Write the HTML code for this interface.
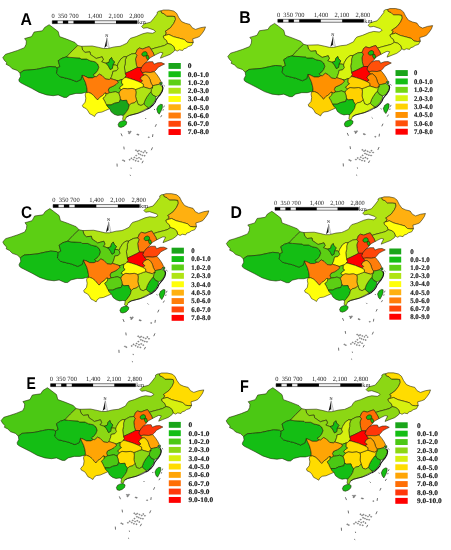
<!DOCTYPE html><html><head><meta charset="utf-8"><title>Maps</title><style>html,body{margin:0;padding:0;background:#fff}svg{display:block}text{font-family:"Liberation Serif",serif;text-rendering:geometricPrecision}.lt{font-family:"Liberation Sans",sans-serif;font-weight:bold}.lg{font-weight:bold}</style></head><body>
<svg width="451" height="550" viewBox="0 0 451 550">
<rect width="451" height="550" fill="#fff"/>
<g transform="matrix(1 0 0 1 0 0)" stroke="#1c1c00" stroke-width="0.55" stroke-linejoin="round">
<path d="M81.6 46.3L92.2 46.0L98.8 47.4L103.3 48.5L107.7 48.5L114.3 46.9L120.0 46.3L122.7 45.2L127.2 43.0L128.8 40.2L130.5 38.3L136.1 36.6L142.7 33.8L147.2 32.7L152.7 33.3L155.5 31.6L153.8 29.9L147.2 27.7L143.3 28.3L141.6 26.6L144.4 23.8L150.5 22.2L153.8 18.3L157.2 13.9L157.2 12.2L158.9 11.1L161.1 10.8L161.6 12.8L164.4 13.9L166.6 16.1L172.2 16.1L175.0 16.6L175.5 19.4L173.8 23.3L170.5 27.7L165.0 31.6L166.6 32.7L165.0 35.5L163.3 36.1L163.9 38.3L166.6 40.5L167.7 43.5L164.4 45.5L160.5 46.6L155.1 48.0L151.0 49.3L149.3 46.7L146.6 47.4L142.7 49.0L139.4 48.0L137.2 49.6L136.4 51.8L135.5 53.5L131.5 54.0L128.0 55.8L126.6 56.7L124.0 56.7L120.9 58.9L118.2 63.3L117.3 66.0L116.0 65.1L112.9 64.9L114.6 62.0L112.4 59.8L111.5 57.5L109.8 59.3L108.9 62.4L105.8 63.3L101.6 61.8L103.3 59.6L102.2 56.8L96.1 58.5L93.8 56.8L90.5 54.6L90.0 51.9L85.0 52.4L82.7 50.2Z" fill="#b0e414"/>
<path d="M2.8 57.6L5.5 54.3L11.1 52.6L17.7 50.4L24.4 47.7L26.1 44.3L26.4 41.0L24.6 38.6L31.6 36.6L34.1 32.0L42.4 30.8L44.6 27.5L49.1 24.7L52.9 27.5L58.2 31.6L59.5 36.6L66.5 39.1L75.0 42.5L77.8 45.5L72.0 51.0L66.6 56.8L62.0 58.2L58.2 60.7L59.9 66.6L57.0 68.0L55.7 67.0L50.0 66.5L44.3 67.6L36.6 69.3L28.8 70.0L23.8 70.4L20.0 73.2L17.2 70.4L12.2 68.7L9.4 65.9L6.1 64.3L6.7 62.6L4.4 60.4Z" fill="#5ccf14"/>
<path d="M20.0 73.2L23.8 70.4L28.8 70.0L36.6 69.3L44.3 67.6L50.0 66.5L55.7 67.0L57.0 68.0L57.4 69.1L56.5 73.3L59.9 76.6L66.5 78.3L70.0 79.1L76.6 81.6L81.0 79.5L82.1 75.3L83.8 79.0L85.4 82.3L86.5 86.2L87.1 89.5L87.1 92.6L86.0 92.3L81.5 93.4L76.0 93.4L69.8 94.9L66.6 97.4L64.0 97.4L58.2 94.9L53.2 95.7L46.6 94.9L39.1 92.4L31.6 88.3L24.9 84.9L20.8 82.8L19.2 81.5L18.8 79.8L20.5 76.5Z" fill="#14be14"/>
<path d="M57.0 68.0L59.9 66.6L58.2 60.7L62.0 58.2L66.6 56.8L70.0 57.4L80.0 58.0L81.0 59.0L86.6 59.0L90.0 60.7L95.0 61.8L97.7 64.0L98.9 67.3L97.6 70.7L95.4 73.4L93.2 74.8L95.0 76.6L92.6 77.9L88.2 77.9L84.9 76.2L82.1 75.3L81.0 79.5L76.6 81.6L70.0 79.1L66.5 78.3L59.9 76.6L56.5 73.3L57.4 69.1Z" fill="#14be14"/>
<path d="M77.8 45.5L81.6 46.3L82.7 50.2L85.0 52.4L90.0 51.9L90.5 54.6L93.8 56.8L96.1 58.5L102.2 56.8L103.3 59.6L101.6 61.8L105.8 63.3L107.5 64.6L108.9 66.9L110.2 69.5L112.4 68.4L112.9 64.9L116.0 65.1L117.7 66.4L118.2 68.6L116.4 70.8L112.9 71.4L112.4 74.0L111.5 76.6L110.6 78.6L109.3 79.5L105.4 79.0L102.1 75.6L99.3 74.2L96.5 76.7L95.0 76.6L93.2 74.8L95.4 73.4L97.6 70.7L98.9 67.3L97.7 64.0L95.0 61.8L90.0 60.7L86.6 59.0L81.0 59.0L80.0 58.0L70.0 57.4L66.6 56.8L72.0 51.0Z" fill="#b0e414"/>
<path d="M111.5 57.5L112.4 59.8L114.6 62.0L112.9 64.9L112.4 68.4L110.2 69.5L108.9 66.9L107.5 64.6L105.8 63.3L108.9 62.4L109.8 59.3Z" fill="#14be14"/>
<path d="M161.1 10.8L163.3 10.0L168.8 10.0L173.8 11.1L176.6 13.3L178.8 17.7L181.6 21.6L185.5 23.3L189.9 24.4L192.2 27.7L195.5 29.4L200.5 27.7L205.5 26.9L204.4 30.0L202.2 33.3L199.4 36.6L196.6 37.7L192.7 38.8L193.3 42.4L190.5 42.7L187.2 42.2L184.4 39.6L179.4 38.2L173.3 36.6L168.8 34.4L165.0 35.5L166.6 32.7L165.0 31.6L170.5 27.7L173.8 23.3L175.5 19.4L175.0 16.6L172.2 16.1L166.6 16.1L164.4 13.9L161.6 12.8Z" fill="#ffb010"/>
<path d="M163.3 36.1L165.0 35.5L168.8 34.4L173.3 36.6L179.4 38.2L184.4 39.6L187.2 42.2L190.5 42.7L193.3 42.4L191.6 45.5L188.3 46.6L186.1 48.2L183.8 48.8L182.7 50.5L179.4 49.9L177.2 51.1L174.9 49.9L173.8 46.6L171.1 44.4L167.7 43.5L166.6 40.5L163.9 38.3Z" fill="#ffff0a"/>
<path d="M167.7 43.5L171.1 44.4L173.8 46.6L174.9 49.9L173.8 51.6L170.0 54.4L164.4 56.6L160.4 58.2L161.3 56.0L163.0 52.9L160.4 52.4L157.0 54.0L154.2 55.5L153.3 52.9L151.0 49.3L155.1 48.0L160.5 46.6L164.4 45.5Z" fill="#b0e414"/>
<path d="M137.2 49.6L139.4 48.0L142.7 49.0L146.6 47.4L149.3 46.7L151.0 49.3L153.3 52.9L154.2 55.5L151.0 57.3L148.9 58.6L148.0 60.4L145.3 63.0L143.8 64.3L141.5 67.5L137.3 67.5L136.4 65.1L135.9 62.4L135.5 58.9L136.8 55.3L135.5 53.5L136.4 51.8Z" fill="#ff7d0a"/>
<path d="M141.8 53.6L143.5 52.0L145.5 51.6L147.0 52.6L147.3 54.8L145.8 56.0L143.0 56.2L141.9 55.0Z" fill="#14be14"/>
<path d="M146.3 55.4L148.4 55.6L149.2 58.7L147.3 59.6L146.2 57.5Z" fill="#14be14"/>
<path d="M141.5 67.5L143.8 64.3L145.3 63.0L148.9 61.7L152.8 61.7L154.0 64.2L157.7 62.8L161.3 62.6L164.6 64.0L161.6 65.5L158.3 67.2L156.0 70.0L154.4 71.6L150.5 72.5L145.5 72.2L142.2 72.7L140.4 70.0Z" fill="#ff460a"/>
<path d="M126.6 56.7L128.0 55.8L131.5 54.0L135.5 53.5L136.8 55.3L135.5 58.9L135.9 62.4L136.4 65.1L137.3 67.5L134.2 69.2L129.7 71.4L125.3 73.3L124.8 70.4L124.4 66.9L125.3 63.3L125.3 59.8Z" fill="#b0e414"/>
<path d="M124.0 56.7L126.6 56.7L125.3 59.8L125.3 63.3L124.4 66.9L124.8 70.4L125.3 73.3L126.2 75.7L124.8 77.5L123.1 79.3L121.7 79.5L118.2 80.8L117.0 80.6L113.7 79.5L110.6 78.6L111.5 76.6L112.4 74.0L112.9 71.4L116.4 70.8L118.2 68.6L117.3 66.0L118.2 63.3L120.9 58.9Z" fill="#b0e414"/>
<path d="M125.3 73.3L129.7 71.4L134.2 69.2L137.3 67.5L141.5 67.5L140.4 70.0L142.2 72.7L144.4 75.0L141.6 76.6L140.5 78.8L142.7 81.0L140.5 82.5L137.7 81.3L134.2 79.9L129.7 78.5L126.6 77.6L124.8 77.5L126.2 75.7Z" fill="#ff0000"/>
<path d="M145.5 72.2L150.5 72.5L154.4 71.6L157.2 75.0L159.4 78.3L161.0 81.6L160.0 82.7L159.0 84.3L155.3 85.2L152.6 85.7L151.0 83.0L149.9 79.3L148.3 76.6L145.9 74.8L144.4 75.0L142.2 72.7Z" fill="#ffb010"/>
<path d="M144.4 75.0L145.9 74.8L148.3 76.6L149.9 79.3L151.0 83.0L152.6 85.7L152.7 87.2L149.9 88.8L146.0 87.7L143.3 86.8L143.3 84.2L140.5 82.5L142.7 81.0L140.5 78.8L141.6 76.6Z" fill="#ffb010"/>
<path d="M159.9 82.7L162.1 82.2L162.1 84.4L160.5 84.9Z" fill="#1aa51a"/>
<path d="M152.6 85.7L155.3 85.2L159.0 84.3L160.5 85.2L162.5 86.6L162.7 89.4L161.0 92.7L158.8 95.5L156.0 96.7L152.7 95.1L151.0 92.4L151.3 89.5L152.7 87.2Z" fill="#b0e414"/>
<path d="M151.0 92.4L152.7 95.1L156.0 96.7L155.5 100.0L153.3 103.3L151.0 106.0L148.3 107.8L146.2 106.3L143.8 104.0L145.0 100.3L146.8 97.0L148.5 94.6L150.3 92.3Z" fill="#5ccf14"/>
<path d="M138.2 88.5L141.6 87.2L143.3 86.8L146.0 87.7L149.9 88.8L152.7 87.2L151.3 89.5L151.0 92.4L150.3 92.3L148.5 94.6L146.8 97.0L145.0 100.3L143.8 104.0L141.0 105.5L138.2 104.5L136.7 100.5L135.6 96.6L136.0 92.2L135.5 89.5Z" fill="#b0e414"/>
<path d="M123.1 79.3L124.8 77.5L126.6 77.6L129.7 78.5L134.2 79.9L137.7 81.3L140.5 82.5L143.3 84.2L143.3 86.8L141.6 87.2L138.2 88.5L135.5 89.5L132.1 88.4L127.7 88.9L123.8 88.4L121.3 89.7L119.2 88.3L120.3 86.7L123.1 84.5L121.5 83.4L121.7 79.5Z" fill="#ffff0a"/>
<path d="M121.3 89.7L123.8 88.4L127.7 88.9L132.1 88.4L135.5 89.5L136.0 92.2L135.6 96.6L136.7 100.5L134.5 102.8L131.3 103.5L129.2 105.3L127.2 102.5L126.6 100.3L122.2 100.6L120.3 99.5L119.8 96.2L118.7 93.0L119.8 91.2Z" fill="#ffb010"/>
<path d="M118.2 80.8L121.7 79.5L121.5 83.4L123.1 84.5L120.3 86.7L119.2 88.3L121.3 89.7L119.8 91.2L118.7 93.0L115.4 91.7L112.6 92.3L109.3 92.8L108.2 90.1L109.3 87.8L113.1 86.2L115.9 84.5L118.1 82.3L117.0 80.6Z" fill="#5ccf14"/>
<path d="M82.1 75.3L84.9 76.2L88.2 77.9L92.6 77.9L95.0 76.6L96.5 76.7L99.3 74.2L102.1 75.6L105.4 79.0L109.3 79.5L110.6 78.6L113.7 79.5L117.0 80.6L118.1 82.3L115.9 84.5L113.1 86.2L109.3 87.8L108.2 90.1L109.3 92.8L107.2 93.9L105.5 93.0L104.6 93.2L102.6 95.6L99.8 97.3L97.6 100.0L96.0 98.4L93.7 95.6L91.0 93.4L88.2 92.3L87.1 92.6L87.1 89.5L86.5 86.2L85.4 82.3L83.8 79.0Z" fill="#ff7d0a"/>
<path d="M109.3 92.8L112.6 92.3L115.4 91.7L118.7 93.0L119.8 96.2L120.3 99.5L119.4 102.2L114.4 103.3L111.1 104.9L106.6 104.9L105.7 103.5L104.6 101.0L102.9 98.2L105.5 96.0L105.8 94.5L105.5 93.0L107.2 93.9Z" fill="#b0e414"/>
<path d="M87.1 92.6L88.2 92.3L91.0 93.4L93.7 95.6L96.0 98.4L97.6 100.0L99.8 97.3L102.6 95.6L104.6 93.2L105.5 93.0L105.8 94.5L105.5 96.0L102.9 98.2L104.6 101.0L105.7 103.5L106.6 104.9L107.6 106.6L109.6 108.7L105.7 110.4L101.8 112.1L98.0 112.6L95.7 114.3L94.6 116.5L91.9 114.8L89.6 113.7L88.0 110.9L86.3 108.7L83.0 107.1L82.4 105.4L85.2 102.1L85.8 98.2L85.2 94.9L86.0 92.3Z" fill="#ffff0a"/>
<path d="M106.6 104.9L111.1 104.9L114.4 103.3L119.4 102.2L120.3 99.5L122.2 100.6L126.6 100.3L127.2 102.5L129.2 105.3L128.3 108.9L126.6 111.6L124.9 113.8L123.3 115.5L121.0 115.0L117.7 115.5L114.4 114.4L111.3 112.1L109.6 108.7L107.6 106.6Z" fill="#1aa51a"/>
<path d="M129.2 105.3L131.3 103.5L134.5 102.8L136.7 100.5L138.2 104.5L141.0 105.5L143.8 104.0L146.2 106.3L148.3 107.8L144.9 109.6L141.0 111.6L137.7 113.3L133.3 114.4L128.8 115.5L126.2 117.2L125.2 119.8L123.8 120.3L122.6 119.4L123.3 115.5L124.9 113.8L126.6 111.6L128.3 108.9Z" fill="#b0e414"/>
<path d="M118.1 124.6L119.3 122.2L122.0 120.9L125.0 120.6L126.8 121.9L126.3 124.2L124.2 126.3L121.0 127.4L118.8 126.8Z" fill="#14be14"/>
<path d="M160.6 104.3L162.4 104.6L162.3 107.9L161.1 110.8L159.2 114.2L157.6 112.2L156.7 109.0L158.2 105.9Z" fill="#14be14"/>
<g stroke="none">
<rect x="52.3" y="20.7" width="84.9" height="2.9" fill="#f2f2f2" stroke="#000" stroke-width="0.5"/>
<rect x="52.3" y="20.7" width="5.3" height="2.9" fill="#000"/>
<rect x="62.9" y="20.7" width="5.3" height="2.9" fill="#000"/>
<rect x="73.5" y="20.7" width="21.3" height="2.9" fill="#000"/>
<rect x="116" y="20.7" width="21.2" height="2.9" fill="#000"/>
<text x="53" y="18.2" font-size="6.4" text-anchor="middle" fill="#222">0</text>
<text x="62.6" y="18.2" font-size="6.4" text-anchor="middle" fill="#222">350</text>
<text x="73.8" y="18.2" font-size="6.4" text-anchor="middle" fill="#222">700</text>
<text x="95" y="18.2" font-size="6.4" text-anchor="middle" fill="#222">1,400</text>
<text x="115.7" y="18.2" font-size="6.4" text-anchor="middle" fill="#222">2,100</text>
<text x="136.5" y="18.2" font-size="6.4" text-anchor="middle" fill="#222">2,800</text>
<text x="137.9" y="24.1" font-size="6.2" fill="#222">km</text>
<text x="106.8" y="36.9" font-size="4.2" text-anchor="middle" font-weight="bold" fill="#333">N</text>
<path d="M106.9 37.7L104.3 48L106.9 45.8Z" fill="#111"/><path d="M106.9 37.7L109.4 48L106.9 45.8Z" fill="#fff" stroke="#555" stroke-width="0.35"/>
<path d="M162.0 85.3L163.0 88L162.3 91.2L160.3 94.6L158.2 97L156.4 99.4L155.2 102.2L153 105L150 107.7L147 109.3" stroke="#111" stroke-width="1.05" fill="none" stroke-linejoin="round"/>
<path d="M147 109.3L143 111.4L138.5 113.1L134 114.3L129.5 115.5L126.3 117.2" stroke="#111" stroke-width="0.75" fill="none" stroke-linejoin="round"/>
<path d="M163.6 85.2L164.8 86.2M154.2 109L154.8 110" stroke="#222" stroke-width="0.7" fill="none"/>
<path d="M145.2 118.0L146.2 119.0" stroke="#222" stroke-width="0.65" fill="none"/>
<path d="M160.6 117.2L161.8 115.2" stroke="#222" stroke-width="0.65" fill="none"/>
<path d="M155.2 126.8L156.4 124.2" stroke="#222" stroke-width="0.65" fill="none"/>
<path d="M152.9 134.2L152.5 137.0" stroke="#222" stroke-width="0.65" fill="none"/>
<path d="M151.3 150.2L152.5 147.4" stroke="#222" stroke-width="0.65" fill="none"/>
<path d="M142.0 163.2L143.2 160.8" stroke="#222" stroke-width="0.65" fill="none"/>
<path d="M131.0 167.6L131.2 168.8" stroke="#222" stroke-width="0.65" fill="none"/>
<path d="M129.8 175.0L130.8 175.6" stroke="#222" stroke-width="0.65" fill="none"/>
<path d="M117.0 163.6L117.2 166.6" stroke="#222" stroke-width="0.65" fill="none"/>
<path d="M123.8 146.6L124.2 149.4" stroke="#222" stroke-width="0.65" fill="none"/>
<path d="M121.0 133.4L122.2 136.2" stroke="#222" stroke-width="0.65" fill="none"/>
<path d="M163.6 107.4L164.4 105.6" stroke="#222" stroke-width="0.65" fill="none"/>
<path d="M163.0 110.6L163.4 109.2" stroke="#222" stroke-width="0.65" fill="none"/>
<ellipse cx="128.6" cy="131.8" rx="0.7" ry="0.45" fill="#999" stroke="#333" stroke-width="0.35"/>
<ellipse cx="129.8" cy="132.6" rx="0.7" ry="0.45" fill="#999" stroke="#333" stroke-width="0.35"/>
<ellipse cx="130.6" cy="131.6" rx="0.7" ry="0.45" fill="#999" stroke="#333" stroke-width="0.35"/>
<ellipse cx="129.2" cy="133.4" rx="0.7" ry="0.45" fill="#999" stroke="#333" stroke-width="0.35"/>
<ellipse cx="137.4" cy="134.4" rx="0.7" ry="0.45" fill="#999" stroke="#333" stroke-width="0.35"/>
<ellipse cx="138.4" cy="134.8" rx="0.7" ry="0.45" fill="#999" stroke="#333" stroke-width="0.35"/>
<ellipse cx="148.8" cy="137.2" rx="0.7" ry="0.45" fill="#999" stroke="#333" stroke-width="0.35"/>
<ellipse cx="136.0" cy="150.2" rx="0.7" ry="0.45" fill="#999" stroke="#333" stroke-width="0.35"/>
<ellipse cx="137.6" cy="151.4" rx="0.7" ry="0.45" fill="#999" stroke="#333" stroke-width="0.35"/>
<ellipse cx="139.0" cy="150.6" rx="0.7" ry="0.45" fill="#999" stroke="#333" stroke-width="0.35"/>
<ellipse cx="141.2" cy="151.6" rx="0.7" ry="0.45" fill="#999" stroke="#333" stroke-width="0.35"/>
<ellipse cx="143.4" cy="152.6" rx="0.7" ry="0.45" fill="#999" stroke="#333" stroke-width="0.35"/>
<ellipse cx="145.0" cy="151.0" rx="0.7" ry="0.45" fill="#999" stroke="#333" stroke-width="0.35"/>
<ellipse cx="146.6" cy="152.8" rx="0.7" ry="0.45" fill="#999" stroke="#333" stroke-width="0.35"/>
<ellipse cx="138.6" cy="153.8" rx="0.7" ry="0.45" fill="#999" stroke="#333" stroke-width="0.35"/>
<ellipse cx="140.4" cy="154.6" rx="0.7" ry="0.45" fill="#999" stroke="#333" stroke-width="0.35"/>
<ellipse cx="142.4" cy="155.4" rx="0.7" ry="0.45" fill="#999" stroke="#333" stroke-width="0.35"/>
<ellipse cx="144.6" cy="155.8" rx="0.7" ry="0.45" fill="#999" stroke="#333" stroke-width="0.35"/>
<ellipse cx="136.2" cy="155.6" rx="0.7" ry="0.45" fill="#999" stroke="#333" stroke-width="0.35"/>
<ellipse cx="134.4" cy="157.4" rx="0.7" ry="0.45" fill="#999" stroke="#333" stroke-width="0.35"/>
<ellipse cx="136.8" cy="158.6" rx="0.7" ry="0.45" fill="#999" stroke="#333" stroke-width="0.35"/>
<ellipse cx="139.0" cy="157.8" rx="0.7" ry="0.45" fill="#999" stroke="#333" stroke-width="0.35"/>
<ellipse cx="141.0" cy="159.0" rx="0.7" ry="0.45" fill="#999" stroke="#333" stroke-width="0.35"/>
<ellipse cx="133.4" cy="159.6" rx="0.7" ry="0.45" fill="#999" stroke="#333" stroke-width="0.35"/>
<ellipse cx="135.6" cy="160.8" rx="0.7" ry="0.45" fill="#999" stroke="#333" stroke-width="0.35"/>
<ellipse cx="138.2" cy="161.2" rx="0.7" ry="0.45" fill="#999" stroke="#333" stroke-width="0.35"/>
<ellipse cx="123.0" cy="160.2" rx="0.7" ry="0.45" fill="#999" stroke="#333" stroke-width="0.35"/>
<ellipse cx="124.4" cy="161.0" rx="0.7" ry="0.45" fill="#999" stroke="#333" stroke-width="0.35"/>
<ellipse cx="131.4" cy="158.2" rx="0.7" ry="0.45" fill="#999" stroke="#333" stroke-width="0.35"/>
<ellipse cx="129.6" cy="159.8" rx="0.7" ry="0.45" fill="#999" stroke="#333" stroke-width="0.35"/>
</g>
</g>
<rect x="168.5" y="63.00" width="12.3" height="5.9" fill="#1aa51a"/>
<text class="lg" x="187.8" y="68.30" font-size="7" textLength="3.8" lengthAdjust="spacingAndGlyphs" fill="#1a1a1a" stroke="#1a1a1a" stroke-width="0.15">0</text>
<rect x="168.5" y="71.26" width="12.3" height="5.9" fill="#14be14"/>
<text class="lg" x="187.8" y="76.56" font-size="7" textLength="21.3" lengthAdjust="spacingAndGlyphs" fill="#1a1a1a" stroke="#1a1a1a" stroke-width="0.15">0.0-1.0</text>
<rect x="168.5" y="79.52" width="12.3" height="5.9" fill="#5ccf14"/>
<text class="lg" x="187.8" y="84.82" font-size="7" textLength="21.3" lengthAdjust="spacingAndGlyphs" fill="#1a1a1a" stroke="#1a1a1a" stroke-width="0.15">1.0-2.0</text>
<rect x="168.5" y="87.78" width="12.3" height="5.9" fill="#b0e414"/>
<text class="lg" x="187.8" y="93.08" font-size="7" textLength="21.3" lengthAdjust="spacingAndGlyphs" fill="#1a1a1a" stroke="#1a1a1a" stroke-width="0.15">2.0-3.0</text>
<rect x="168.5" y="96.04" width="12.3" height="5.9" fill="#ffff0a"/>
<text class="lg" x="187.8" y="101.34" font-size="7" textLength="21.3" lengthAdjust="spacingAndGlyphs" fill="#1a1a1a" stroke="#1a1a1a" stroke-width="0.15">3.0-4.0</text>
<rect x="168.5" y="104.30" width="12.3" height="5.9" fill="#ffb010"/>
<text class="lg" x="187.8" y="109.60" font-size="7" textLength="21.3" lengthAdjust="spacingAndGlyphs" fill="#1a1a1a" stroke="#1a1a1a" stroke-width="0.15">4.0-5.0</text>
<rect x="168.5" y="112.56" width="12.3" height="5.9" fill="#ff7d0a"/>
<text class="lg" x="187.8" y="117.86" font-size="7" textLength="21.3" lengthAdjust="spacingAndGlyphs" fill="#1a1a1a" stroke="#1a1a1a" stroke-width="0.15">5.0-6.0</text>
<rect x="168.5" y="120.82" width="12.3" height="5.9" fill="#ff460a"/>
<text class="lg" x="187.8" y="126.12" font-size="7" textLength="21.3" lengthAdjust="spacingAndGlyphs" fill="#1a1a1a" stroke="#1a1a1a" stroke-width="0.15">6.0-7.0</text>
<rect x="168.5" y="129.08" width="12.3" height="5.9" fill="#ff0000"/>
<text class="lg" x="187.8" y="134.38" font-size="7" textLength="21.3" lengthAdjust="spacingAndGlyphs" fill="#1a1a1a" stroke="#1a1a1a" stroke-width="0.15">7.0-8.0</text>
<text class="lt" transform="translate(20.6 25.4) scale(0.93 1)" font-size="17" fill="#000">A</text>
<g transform="matrix(1.0105 0 0 1.008 224.97 -1.52)" stroke="#1c1c00" stroke-width="0.55" stroke-linejoin="round">
<path d="M81.6 46.3L92.2 46.0L98.8 47.4L103.3 48.5L107.7 48.5L114.3 46.9L120.0 46.3L122.7 45.2L127.2 43.0L128.8 40.2L130.5 38.3L136.1 36.6L142.7 33.8L147.2 32.7L152.7 33.3L155.5 31.6L153.8 29.9L147.2 27.7L143.3 28.3L141.6 26.6L144.4 23.8L150.5 22.2L153.8 18.3L157.2 13.9L157.2 12.2L158.9 11.1L161.1 10.8L161.6 12.8L164.4 13.9L166.6 16.1L172.2 16.1L175.0 16.6L175.5 19.4L173.8 23.3L170.5 27.7L165.0 31.6L166.6 32.7L165.0 35.5L163.3 36.1L163.9 38.3L166.6 40.5L167.7 43.5L164.4 45.5L160.5 46.6L155.1 48.0L151.0 49.3L149.3 46.7L146.6 47.4L142.7 49.0L139.4 48.0L137.2 49.6L136.4 51.8L135.5 53.5L131.5 54.0L128.0 55.8L126.6 56.7L124.0 56.7L120.9 58.9L118.2 63.3L117.3 66.0L116.0 65.1L112.9 64.9L114.6 62.0L112.4 59.8L111.5 57.5L109.8 59.3L108.9 62.4L105.8 63.3L101.6 61.8L103.3 59.6L102.2 56.8L96.1 58.5L93.8 56.8L90.5 54.6L90.0 51.9L85.0 52.4L82.7 50.2Z" fill="#d7f50f"/>
<path d="M2.8 57.6L5.5 54.3L11.1 52.6L17.7 50.4L24.4 47.7L26.1 44.3L26.4 41.0L24.6 38.6L31.6 36.6L34.1 32.0L42.4 30.8L44.6 27.5L49.1 24.7L52.9 27.5L58.2 31.6L59.5 36.6L66.5 39.1L75.0 42.5L77.8 45.5L72.0 51.0L66.6 56.8L62.0 58.2L58.2 60.7L59.9 66.6L57.0 68.0L55.7 67.0L50.0 66.5L44.3 67.6L36.6 69.3L28.8 70.0L23.8 70.4L20.0 73.2L17.2 70.4L12.2 68.7L9.4 65.9L6.1 64.3L6.7 62.6L4.4 60.4Z" fill="#73d714"/>
<path d="M20.0 73.2L23.8 70.4L28.8 70.0L36.6 69.3L44.3 67.6L50.0 66.5L55.7 67.0L57.0 68.0L57.4 69.1L56.5 73.3L59.9 76.6L66.5 78.3L70.0 79.1L76.6 81.6L81.0 79.5L82.1 75.3L83.8 79.0L85.4 82.3L86.5 86.2L87.1 89.5L87.1 92.6L86.0 92.3L81.5 93.4L76.0 93.4L69.8 94.9L66.6 97.4L64.0 97.4L58.2 94.9L53.2 95.7L46.6 94.9L39.1 92.4L31.6 88.3L24.9 84.9L20.8 82.8L19.2 81.5L18.8 79.8L20.5 76.5Z" fill="#14be14"/>
<path d="M57.0 68.0L59.9 66.6L58.2 60.7L62.0 58.2L66.6 56.8L70.0 57.4L80.0 58.0L81.0 59.0L86.6 59.0L90.0 60.7L95.0 61.8L97.7 64.0L98.9 67.3L97.6 70.7L95.4 73.4L93.2 74.8L95.0 76.6L92.6 77.9L88.2 77.9L84.9 76.2L82.1 75.3L81.0 79.5L76.6 81.6L70.0 79.1L66.5 78.3L59.9 76.6L56.5 73.3L57.4 69.1Z" fill="#14be14"/>
<path d="M77.8 45.5L81.6 46.3L82.7 50.2L85.0 52.4L90.0 51.9L90.5 54.6L93.8 56.8L96.1 58.5L102.2 56.8L103.3 59.6L101.6 61.8L105.8 63.3L107.5 64.6L108.9 66.9L110.2 69.5L112.4 68.4L112.9 64.9L116.0 65.1L117.7 66.4L118.2 68.6L116.4 70.8L112.9 71.4L112.4 74.0L111.5 76.6L110.6 78.6L109.3 79.5L105.4 79.0L102.1 75.6L99.3 74.2L96.5 76.7L95.0 76.6L93.2 74.8L95.4 73.4L97.6 70.7L98.9 67.3L97.7 64.0L95.0 61.8L90.0 60.7L86.6 59.0L81.0 59.0L80.0 58.0L70.0 57.4L66.6 56.8L72.0 51.0Z" fill="#73d714"/>
<path d="M111.5 57.5L112.4 59.8L114.6 62.0L112.9 64.9L112.4 68.4L110.2 69.5L108.9 66.9L107.5 64.6L105.8 63.3L108.9 62.4L109.8 59.3Z" fill="#14be14"/>
<path d="M161.1 10.8L163.3 10.0L168.8 10.0L173.8 11.1L176.6 13.3L178.8 17.7L181.6 21.6L185.5 23.3L189.9 24.4L192.2 27.7L195.5 29.4L200.5 27.7L205.5 26.9L204.4 30.0L202.2 33.3L199.4 36.6L196.6 37.7L192.7 38.8L193.3 42.4L190.5 42.7L187.2 42.2L184.4 39.6L179.4 38.2L173.3 36.6L168.8 34.4L165.0 35.5L166.6 32.7L165.0 31.6L170.5 27.7L173.8 23.3L175.5 19.4L175.0 16.6L172.2 16.1L166.6 16.1L164.4 13.9L161.6 12.8Z" fill="#ff9100"/>
<path d="M163.3 36.1L165.0 35.5L168.8 34.4L173.3 36.6L179.4 38.2L184.4 39.6L187.2 42.2L190.5 42.7L193.3 42.4L191.6 45.5L188.3 46.6L186.1 48.2L183.8 48.8L182.7 50.5L179.4 49.9L177.2 51.1L174.9 49.9L173.8 46.6L171.1 44.4L167.7 43.5L166.6 40.5L163.9 38.3Z" fill="#d7f50f"/>
<path d="M167.7 43.5L171.1 44.4L173.8 46.6L174.9 49.9L173.8 51.6L170.0 54.4L164.4 56.6L160.4 58.2L161.3 56.0L163.0 52.9L160.4 52.4L157.0 54.0L154.2 55.5L153.3 52.9L151.0 49.3L155.1 48.0L160.5 46.6L164.4 45.5Z" fill="#d7f50f"/>
<path d="M137.2 49.6L139.4 48.0L142.7 49.0L146.6 47.4L149.3 46.7L151.0 49.3L153.3 52.9L154.2 55.5L151.0 57.3L148.9 58.6L148.0 60.4L145.3 63.0L143.8 64.3L141.5 67.5L137.3 67.5L136.4 65.1L135.9 62.4L135.5 58.9L136.8 55.3L135.5 53.5L136.4 51.8Z" fill="#ff500a"/>
<path d="M141.8 53.6L143.5 52.0L145.5 51.6L147.0 52.6L147.3 54.8L145.8 56.0L143.0 56.2L141.9 55.0Z" fill="#14be14"/>
<path d="M146.3 55.4L148.4 55.6L149.2 58.7L147.3 59.6L146.2 57.5Z" fill="#14be14"/>
<path d="M141.5 67.5L143.8 64.3L145.3 63.0L148.9 61.7L152.8 61.7L154.0 64.2L157.7 62.8L161.3 62.6L164.6 64.0L161.6 65.5L158.3 67.2L156.0 70.0L154.4 71.6L150.5 72.5L145.5 72.2L142.2 72.7L140.4 70.0Z" fill="#ff500a"/>
<path d="M126.6 56.7L128.0 55.8L131.5 54.0L135.5 53.5L136.8 55.3L135.5 58.9L135.9 62.4L136.4 65.1L137.3 67.5L134.2 69.2L129.7 71.4L125.3 73.3L124.8 70.4L124.4 66.9L125.3 63.3L125.3 59.8Z" fill="#73d714"/>
<path d="M124.0 56.7L126.6 56.7L125.3 59.8L125.3 63.3L124.4 66.9L124.8 70.4L125.3 73.3L126.2 75.7L124.8 77.5L123.1 79.3L121.7 79.5L118.2 80.8L117.0 80.6L113.7 79.5L110.6 78.6L111.5 76.6L112.4 74.0L112.9 71.4L116.4 70.8L118.2 68.6L117.3 66.0L118.2 63.3L120.9 58.9Z" fill="#d7f50f"/>
<path d="M125.3 73.3L129.7 71.4L134.2 69.2L137.3 67.5L141.5 67.5L140.4 70.0L142.2 72.7L144.4 75.0L141.6 76.6L140.5 78.8L142.7 81.0L140.5 82.5L137.7 81.3L134.2 79.9L129.7 78.5L126.6 77.6L124.8 77.5L126.2 75.7Z" fill="#ff0000"/>
<path d="M145.5 72.2L150.5 72.5L154.4 71.6L157.2 75.0L159.4 78.3L161.0 81.6L160.0 82.7L159.0 84.3L155.3 85.2L152.6 85.7L151.0 83.0L149.9 79.3L148.3 76.6L145.9 74.8L144.4 75.0L142.2 72.7Z" fill="#ff9100"/>
<path d="M144.4 75.0L145.9 74.8L148.3 76.6L149.9 79.3L151.0 83.0L152.6 85.7L152.7 87.2L149.9 88.8L146.0 87.7L143.3 86.8L143.3 84.2L140.5 82.5L142.7 81.0L140.5 78.8L141.6 76.6Z" fill="#ff9100"/>
<path d="M159.9 82.7L162.1 82.2L162.1 84.4L160.5 84.9Z" fill="#1aa51a"/>
<path d="M152.6 85.7L155.3 85.2L159.0 84.3L160.5 85.2L162.5 86.6L162.7 89.4L161.0 92.7L158.8 95.5L156.0 96.7L152.7 95.1L151.0 92.4L151.3 89.5L152.7 87.2Z" fill="#73d714"/>
<path d="M151.0 92.4L152.7 95.1L156.0 96.7L155.5 100.0L153.3 103.3L151.0 106.0L148.3 107.8L146.2 106.3L143.8 104.0L145.0 100.3L146.8 97.0L148.5 94.6L150.3 92.3Z" fill="#73d714"/>
<path d="M138.2 88.5L141.6 87.2L143.3 86.8L146.0 87.7L149.9 88.8L152.7 87.2L151.3 89.5L151.0 92.4L150.3 92.3L148.5 94.6L146.8 97.0L145.0 100.3L143.8 104.0L141.0 105.5L138.2 104.5L136.7 100.5L135.6 96.6L136.0 92.2L135.5 89.5Z" fill="#d7f50f"/>
<path d="M123.1 79.3L124.8 77.5L126.6 77.6L129.7 78.5L134.2 79.9L137.7 81.3L140.5 82.5L143.3 84.2L143.3 86.8L141.6 87.2L138.2 88.5L135.5 89.5L132.1 88.4L127.7 88.9L123.8 88.4L121.3 89.7L119.2 88.3L120.3 86.7L123.1 84.5L121.5 83.4L121.7 79.5Z" fill="#ffd200"/>
<path d="M121.3 89.7L123.8 88.4L127.7 88.9L132.1 88.4L135.5 89.5L136.0 92.2L135.6 96.6L136.7 100.5L134.5 102.8L131.3 103.5L129.2 105.3L127.2 102.5L126.6 100.3L122.2 100.6L120.3 99.5L119.8 96.2L118.7 93.0L119.8 91.2Z" fill="#ffd200"/>
<path d="M118.2 80.8L121.7 79.5L121.5 83.4L123.1 84.5L120.3 86.7L119.2 88.3L121.3 89.7L119.8 91.2L118.7 93.0L115.4 91.7L112.6 92.3L109.3 92.8L108.2 90.1L109.3 87.8L113.1 86.2L115.9 84.5L118.1 82.3L117.0 80.6Z" fill="#73d714"/>
<path d="M82.1 75.3L84.9 76.2L88.2 77.9L92.6 77.9L95.0 76.6L96.5 76.7L99.3 74.2L102.1 75.6L105.4 79.0L109.3 79.5L110.6 78.6L113.7 79.5L117.0 80.6L118.1 82.3L115.9 84.5L113.1 86.2L109.3 87.8L108.2 90.1L109.3 92.8L107.2 93.9L105.5 93.0L104.6 93.2L102.6 95.6L99.8 97.3L97.6 100.0L96.0 98.4L93.7 95.6L91.0 93.4L88.2 92.3L87.1 92.6L87.1 89.5L86.5 86.2L85.4 82.3L83.8 79.0Z" fill="#ff9100"/>
<path d="M109.3 92.8L112.6 92.3L115.4 91.7L118.7 93.0L119.8 96.2L120.3 99.5L119.4 102.2L114.4 103.3L111.1 104.9L106.6 104.9L105.7 103.5L104.6 101.0L102.9 98.2L105.5 96.0L105.8 94.5L105.5 93.0L107.2 93.9Z" fill="#73d714"/>
<path d="M87.1 92.6L88.2 92.3L91.0 93.4L93.7 95.6L96.0 98.4L97.6 100.0L99.8 97.3L102.6 95.6L104.6 93.2L105.5 93.0L105.8 94.5L105.5 96.0L102.9 98.2L104.6 101.0L105.7 103.5L106.6 104.9L107.6 106.6L109.6 108.7L105.7 110.4L101.8 112.1L98.0 112.6L95.7 114.3L94.6 116.5L91.9 114.8L89.6 113.7L88.0 110.9L86.3 108.7L83.0 107.1L82.4 105.4L85.2 102.1L85.8 98.2L85.2 94.9L86.0 92.3Z" fill="#ffd200"/>
<path d="M106.6 104.9L111.1 104.9L114.4 103.3L119.4 102.2L120.3 99.5L122.2 100.6L126.6 100.3L127.2 102.5L129.2 105.3L128.3 108.9L126.6 111.6L124.9 113.8L123.3 115.5L121.0 115.0L117.7 115.5L114.4 114.4L111.3 112.1L109.6 108.7L107.6 106.6Z" fill="#14be14"/>
<path d="M129.2 105.3L131.3 103.5L134.5 102.8L136.7 100.5L138.2 104.5L141.0 105.5L143.8 104.0L146.2 106.3L148.3 107.8L144.9 109.6L141.0 111.6L137.7 113.3L133.3 114.4L128.8 115.5L126.2 117.2L125.2 119.8L123.8 120.3L122.6 119.4L123.3 115.5L124.9 113.8L126.6 111.6L128.3 108.9Z" fill="#d7f50f"/>
<path d="M118.1 124.6L119.3 122.2L122.0 120.9L125.0 120.6L126.8 121.9L126.3 124.2L124.2 126.3L121.0 127.4L118.8 126.8Z" fill="#14be14"/>
<path d="M160.6 104.3L162.4 104.6L162.3 107.9L161.1 110.8L159.2 114.2L157.6 112.2L156.7 109.0L158.2 105.9Z" fill="#14be14"/>
<g stroke="none">
<rect x="52.3" y="20.7" width="84.9" height="2.9" fill="#f2f2f2" stroke="#000" stroke-width="0.5"/>
<rect x="52.3" y="20.7" width="5.3" height="2.9" fill="#000"/>
<rect x="62.9" y="20.7" width="5.3" height="2.9" fill="#000"/>
<rect x="73.5" y="20.7" width="21.3" height="2.9" fill="#000"/>
<rect x="116" y="20.7" width="21.2" height="2.9" fill="#000"/>
<text x="53" y="18.2" font-size="6.4" text-anchor="middle" fill="#222">0</text>
<text x="62.6" y="18.2" font-size="6.4" text-anchor="middle" fill="#222">350</text>
<text x="73.8" y="18.2" font-size="6.4" text-anchor="middle" fill="#222">700</text>
<text x="95" y="18.2" font-size="6.4" text-anchor="middle" fill="#222">1,400</text>
<text x="115.7" y="18.2" font-size="6.4" text-anchor="middle" fill="#222">2,100</text>
<text x="136.5" y="18.2" font-size="6.4" text-anchor="middle" fill="#222">2,800</text>
<text x="137.9" y="24.1" font-size="6.2" fill="#222">km</text>
<text x="106.8" y="36.9" font-size="4.2" text-anchor="middle" font-weight="bold" fill="#333">N</text>
<path d="M106.9 37.7L104.3 48L106.9 45.8Z" fill="#111"/><path d="M106.9 37.7L109.4 48L106.9 45.8Z" fill="#fff" stroke="#555" stroke-width="0.35"/>
<path d="M162.0 85.3L163.0 88L162.3 91.2L160.3 94.6L158.2 97L156.4 99.4L155.2 102.2L153 105L150 107.7L147 109.3" stroke="#111" stroke-width="1.05" fill="none" stroke-linejoin="round"/>
<path d="M147 109.3L143 111.4L138.5 113.1L134 114.3L129.5 115.5L126.3 117.2" stroke="#111" stroke-width="0.75" fill="none" stroke-linejoin="round"/>
<path d="M163.6 85.2L164.8 86.2M154.2 109L154.8 110" stroke="#222" stroke-width="0.7" fill="none"/>
<path d="M145.2 118.0L146.2 119.0" stroke="#222" stroke-width="0.65" fill="none"/>
<path d="M160.6 117.2L161.8 115.2" stroke="#222" stroke-width="0.65" fill="none"/>
<path d="M155.2 126.8L156.4 124.2" stroke="#222" stroke-width="0.65" fill="none"/>
<path d="M152.9 134.2L152.5 137.0" stroke="#222" stroke-width="0.65" fill="none"/>
<path d="M151.3 150.2L152.5 147.4" stroke="#222" stroke-width="0.65" fill="none"/>
<path d="M142.0 163.2L143.2 160.8" stroke="#222" stroke-width="0.65" fill="none"/>
<path d="M131.0 167.6L131.2 168.8" stroke="#222" stroke-width="0.65" fill="none"/>
<path d="M129.8 175.0L130.8 175.6" stroke="#222" stroke-width="0.65" fill="none"/>
<path d="M117.0 163.6L117.2 166.6" stroke="#222" stroke-width="0.65" fill="none"/>
<path d="M123.8 146.6L124.2 149.4" stroke="#222" stroke-width="0.65" fill="none"/>
<path d="M121.0 133.4L122.2 136.2" stroke="#222" stroke-width="0.65" fill="none"/>
<path d="M163.6 107.4L164.4 105.6" stroke="#222" stroke-width="0.65" fill="none"/>
<path d="M163.0 110.6L163.4 109.2" stroke="#222" stroke-width="0.65" fill="none"/>
<ellipse cx="128.6" cy="131.8" rx="0.7" ry="0.45" fill="#999" stroke="#333" stroke-width="0.35"/>
<ellipse cx="129.8" cy="132.6" rx="0.7" ry="0.45" fill="#999" stroke="#333" stroke-width="0.35"/>
<ellipse cx="130.6" cy="131.6" rx="0.7" ry="0.45" fill="#999" stroke="#333" stroke-width="0.35"/>
<ellipse cx="129.2" cy="133.4" rx="0.7" ry="0.45" fill="#999" stroke="#333" stroke-width="0.35"/>
<ellipse cx="137.4" cy="134.4" rx="0.7" ry="0.45" fill="#999" stroke="#333" stroke-width="0.35"/>
<ellipse cx="138.4" cy="134.8" rx="0.7" ry="0.45" fill="#999" stroke="#333" stroke-width="0.35"/>
<ellipse cx="148.8" cy="137.2" rx="0.7" ry="0.45" fill="#999" stroke="#333" stroke-width="0.35"/>
<ellipse cx="136.0" cy="150.2" rx="0.7" ry="0.45" fill="#999" stroke="#333" stroke-width="0.35"/>
<ellipse cx="137.6" cy="151.4" rx="0.7" ry="0.45" fill="#999" stroke="#333" stroke-width="0.35"/>
<ellipse cx="139.0" cy="150.6" rx="0.7" ry="0.45" fill="#999" stroke="#333" stroke-width="0.35"/>
<ellipse cx="141.2" cy="151.6" rx="0.7" ry="0.45" fill="#999" stroke="#333" stroke-width="0.35"/>
<ellipse cx="143.4" cy="152.6" rx="0.7" ry="0.45" fill="#999" stroke="#333" stroke-width="0.35"/>
<ellipse cx="145.0" cy="151.0" rx="0.7" ry="0.45" fill="#999" stroke="#333" stroke-width="0.35"/>
<ellipse cx="146.6" cy="152.8" rx="0.7" ry="0.45" fill="#999" stroke="#333" stroke-width="0.35"/>
<ellipse cx="138.6" cy="153.8" rx="0.7" ry="0.45" fill="#999" stroke="#333" stroke-width="0.35"/>
<ellipse cx="140.4" cy="154.6" rx="0.7" ry="0.45" fill="#999" stroke="#333" stroke-width="0.35"/>
<ellipse cx="142.4" cy="155.4" rx="0.7" ry="0.45" fill="#999" stroke="#333" stroke-width="0.35"/>
<ellipse cx="144.6" cy="155.8" rx="0.7" ry="0.45" fill="#999" stroke="#333" stroke-width="0.35"/>
<ellipse cx="136.2" cy="155.6" rx="0.7" ry="0.45" fill="#999" stroke="#333" stroke-width="0.35"/>
<ellipse cx="134.4" cy="157.4" rx="0.7" ry="0.45" fill="#999" stroke="#333" stroke-width="0.35"/>
<ellipse cx="136.8" cy="158.6" rx="0.7" ry="0.45" fill="#999" stroke="#333" stroke-width="0.35"/>
<ellipse cx="139.0" cy="157.8" rx="0.7" ry="0.45" fill="#999" stroke="#333" stroke-width="0.35"/>
<ellipse cx="141.0" cy="159.0" rx="0.7" ry="0.45" fill="#999" stroke="#333" stroke-width="0.35"/>
<ellipse cx="133.4" cy="159.6" rx="0.7" ry="0.45" fill="#999" stroke="#333" stroke-width="0.35"/>
<ellipse cx="135.6" cy="160.8" rx="0.7" ry="0.45" fill="#999" stroke="#333" stroke-width="0.35"/>
<ellipse cx="138.2" cy="161.2" rx="0.7" ry="0.45" fill="#999" stroke="#333" stroke-width="0.35"/>
<ellipse cx="123.0" cy="160.2" rx="0.7" ry="0.45" fill="#999" stroke="#333" stroke-width="0.35"/>
<ellipse cx="124.4" cy="161.0" rx="0.7" ry="0.45" fill="#999" stroke="#333" stroke-width="0.35"/>
<ellipse cx="131.4" cy="158.2" rx="0.7" ry="0.45" fill="#999" stroke="#333" stroke-width="0.35"/>
<ellipse cx="129.6" cy="159.8" rx="0.7" ry="0.45" fill="#999" stroke="#333" stroke-width="0.35"/>
</g>
</g>
<rect x="395.5" y="70.10" width="12.3" height="5.9" fill="#1aa51a"/>
<text class="lg" x="414" y="75.40" font-size="7" textLength="3.3" lengthAdjust="spacingAndGlyphs" fill="#1a1a1a" stroke="#1a1a1a" stroke-width="0.15">0</text>
<rect x="395.5" y="78.48" width="12.3" height="5.9" fill="#14be14"/>
<text class="lg" x="414" y="83.78" font-size="7" textLength="18.8" lengthAdjust="spacingAndGlyphs" fill="#1a1a1a" stroke="#1a1a1a" stroke-width="0.15">0.0-1.0</text>
<rect x="395.5" y="86.86" width="12.3" height="5.9" fill="#73d714"/>
<text class="lg" x="414" y="92.16" font-size="7" textLength="18.8" lengthAdjust="spacingAndGlyphs" fill="#1a1a1a" stroke="#1a1a1a" stroke-width="0.15">1.0-2.0</text>
<rect x="395.5" y="95.24" width="12.3" height="5.9" fill="#d7f50f"/>
<text class="lg" x="414" y="100.54" font-size="7" textLength="18.8" lengthAdjust="spacingAndGlyphs" fill="#1a1a1a" stroke="#1a1a1a" stroke-width="0.15">2.0-3.0</text>
<rect x="395.5" y="103.62" width="12.3" height="5.9" fill="#ffd200"/>
<text class="lg" x="414" y="108.92" font-size="7" textLength="18.8" lengthAdjust="spacingAndGlyphs" fill="#1a1a1a" stroke="#1a1a1a" stroke-width="0.15">3.0-4.0</text>
<rect x="395.5" y="112.00" width="12.3" height="5.9" fill="#ff9100"/>
<text class="lg" x="414" y="117.30" font-size="7" textLength="18.8" lengthAdjust="spacingAndGlyphs" fill="#1a1a1a" stroke="#1a1a1a" stroke-width="0.15">4.0-5.0</text>
<rect x="395.5" y="120.38" width="12.3" height="5.9" fill="#ff500a"/>
<text class="lg" x="414" y="125.68" font-size="7" textLength="18.8" lengthAdjust="spacingAndGlyphs" fill="#1a1a1a" stroke="#1a1a1a" stroke-width="0.15">5.0-6.0</text>
<rect x="395.5" y="128.76" width="12.3" height="5.9" fill="#ff0000"/>
<text class="lg" x="414" y="134.06" font-size="7" textLength="18.8" lengthAdjust="spacingAndGlyphs" fill="#1a1a1a" stroke="#1a1a1a" stroke-width="0.15">7.0-8.0</text>
<text class="lt" transform="translate(239.2 22.9) scale(0.93 1)" font-size="17" fill="#000">B</text>
<g transform="matrix(1.0165 0 0 1.0165 -0.05 183.5)" stroke="#1c1c00" stroke-width="0.55" stroke-linejoin="round">
<path d="M81.6 46.3L92.2 46.0L98.8 47.4L103.3 48.5L107.7 48.5L114.3 46.9L120.0 46.3L122.7 45.2L127.2 43.0L128.8 40.2L130.5 38.3L136.1 36.6L142.7 33.8L147.2 32.7L152.7 33.3L155.5 31.6L153.8 29.9L147.2 27.7L143.3 28.3L141.6 26.6L144.4 23.8L150.5 22.2L153.8 18.3L157.2 13.9L157.2 12.2L158.9 11.1L161.1 10.8L161.6 12.8L164.4 13.9L166.6 16.1L172.2 16.1L175.0 16.6L175.5 19.4L173.8 23.3L170.5 27.7L165.0 31.6L166.6 32.7L165.0 35.5L163.3 36.1L163.9 38.3L166.6 40.5L167.7 43.5L164.4 45.5L160.5 46.6L155.1 48.0L151.0 49.3L149.3 46.7L146.6 47.4L142.7 49.0L139.4 48.0L137.2 49.6L136.4 51.8L135.5 53.5L131.5 54.0L128.0 55.8L126.6 56.7L124.0 56.7L120.9 58.9L118.2 63.3L117.3 66.0L116.0 65.1L112.9 64.9L114.6 62.0L112.4 59.8L111.5 57.5L109.8 59.3L108.9 62.4L105.8 63.3L101.6 61.8L103.3 59.6L102.2 56.8L96.1 58.5L93.8 56.8L90.5 54.6L90.0 51.9L85.0 52.4L82.7 50.2Z" fill="#b0e414"/>
<path d="M2.8 57.6L5.5 54.3L11.1 52.6L17.7 50.4L24.4 47.7L26.1 44.3L26.4 41.0L24.6 38.6L31.6 36.6L34.1 32.0L42.4 30.8L44.6 27.5L49.1 24.7L52.9 27.5L58.2 31.6L59.5 36.6L66.5 39.1L75.0 42.5L77.8 45.5L72.0 51.0L66.6 56.8L62.0 58.2L58.2 60.7L59.9 66.6L57.0 68.0L55.7 67.0L50.0 66.5L44.3 67.6L36.6 69.3L28.8 70.0L23.8 70.4L20.0 73.2L17.2 70.4L12.2 68.7L9.4 65.9L6.1 64.3L6.7 62.6L4.4 60.4Z" fill="#5ccf14"/>
<path d="M20.0 73.2L23.8 70.4L28.8 70.0L36.6 69.3L44.3 67.6L50.0 66.5L55.7 67.0L57.0 68.0L57.4 69.1L56.5 73.3L59.9 76.6L66.5 78.3L70.0 79.1L76.6 81.6L81.0 79.5L82.1 75.3L83.8 79.0L85.4 82.3L86.5 86.2L87.1 89.5L87.1 92.6L86.0 92.3L81.5 93.4L76.0 93.4L69.8 94.9L66.6 97.4L64.0 97.4L58.2 94.9L53.2 95.7L46.6 94.9L39.1 92.4L31.6 88.3L24.9 84.9L20.8 82.8L19.2 81.5L18.8 79.8L20.5 76.5Z" fill="#14be14"/>
<path d="M57.0 68.0L59.9 66.6L58.2 60.7L62.0 58.2L66.6 56.8L70.0 57.4L80.0 58.0L81.0 59.0L86.6 59.0L90.0 60.7L95.0 61.8L97.7 64.0L98.9 67.3L97.6 70.7L95.4 73.4L93.2 74.8L95.0 76.6L92.6 77.9L88.2 77.9L84.9 76.2L82.1 75.3L81.0 79.5L76.6 81.6L70.0 79.1L66.5 78.3L59.9 76.6L56.5 73.3L57.4 69.1Z" fill="#14be14"/>
<path d="M77.8 45.5L81.6 46.3L82.7 50.2L85.0 52.4L90.0 51.9L90.5 54.6L93.8 56.8L96.1 58.5L102.2 56.8L103.3 59.6L101.6 61.8L105.8 63.3L107.5 64.6L108.9 66.9L110.2 69.5L112.4 68.4L112.9 64.9L116.0 65.1L117.7 66.4L118.2 68.6L116.4 70.8L112.9 71.4L112.4 74.0L111.5 76.6L110.6 78.6L109.3 79.5L105.4 79.0L102.1 75.6L99.3 74.2L96.5 76.7L95.0 76.6L93.2 74.8L95.4 73.4L97.6 70.7L98.9 67.3L97.7 64.0L95.0 61.8L90.0 60.7L86.6 59.0L81.0 59.0L80.0 58.0L70.0 57.4L66.6 56.8L72.0 51.0Z" fill="#5ccf14"/>
<path d="M111.5 57.5L112.4 59.8L114.6 62.0L112.9 64.9L112.4 68.4L110.2 69.5L108.9 66.9L107.5 64.6L105.8 63.3L108.9 62.4L109.8 59.3Z" fill="#14be14"/>
<path d="M161.1 10.8L163.3 10.0L168.8 10.0L173.8 11.1L176.6 13.3L178.8 17.7L181.6 21.6L185.5 23.3L189.9 24.4L192.2 27.7L195.5 29.4L200.5 27.7L205.5 26.9L204.4 30.0L202.2 33.3L199.4 36.6L196.6 37.7L192.7 38.8L193.3 42.4L190.5 42.7L187.2 42.2L184.4 39.6L179.4 38.2L173.3 36.6L168.8 34.4L165.0 35.5L166.6 32.7L165.0 31.6L170.5 27.7L173.8 23.3L175.5 19.4L175.0 16.6L172.2 16.1L166.6 16.1L164.4 13.9L161.6 12.8Z" fill="#ffb010"/>
<path d="M163.3 36.1L165.0 35.5L168.8 34.4L173.3 36.6L179.4 38.2L184.4 39.6L187.2 42.2L190.5 42.7L193.3 42.4L191.6 45.5L188.3 46.6L186.1 48.2L183.8 48.8L182.7 50.5L179.4 49.9L177.2 51.1L174.9 49.9L173.8 46.6L171.1 44.4L167.7 43.5L166.6 40.5L163.9 38.3Z" fill="#ffff0a"/>
<path d="M167.7 43.5L171.1 44.4L173.8 46.6L174.9 49.9L173.8 51.6L170.0 54.4L164.4 56.6L160.4 58.2L161.3 56.0L163.0 52.9L160.4 52.4L157.0 54.0L154.2 55.5L153.3 52.9L151.0 49.3L155.1 48.0L160.5 46.6L164.4 45.5Z" fill="#b0e414"/>
<path d="M137.2 49.6L139.4 48.0L142.7 49.0L146.6 47.4L149.3 46.7L151.0 49.3L153.3 52.9L154.2 55.5L151.0 57.3L148.9 58.6L148.0 60.4L145.3 63.0L143.8 64.3L141.5 67.5L137.3 67.5L136.4 65.1L135.9 62.4L135.5 58.9L136.8 55.3L135.5 53.5L136.4 51.8Z" fill="#ff7d0a"/>
<path d="M141.8 53.6L143.5 52.0L145.5 51.6L147.0 52.6L147.3 54.8L145.8 56.0L143.0 56.2L141.9 55.0Z" fill="#14be14"/>
<path d="M146.3 55.4L148.4 55.6L149.2 58.7L147.3 59.6L146.2 57.5Z" fill="#14be14"/>
<path d="M141.5 67.5L143.8 64.3L145.3 63.0L148.9 61.7L152.8 61.7L154.0 64.2L157.7 62.8L161.3 62.6L164.6 64.0L161.6 65.5L158.3 67.2L156.0 70.0L154.4 71.6L150.5 72.5L145.5 72.2L142.2 72.7L140.4 70.0Z" fill="#ff460a"/>
<path d="M126.6 56.7L128.0 55.8L131.5 54.0L135.5 53.5L136.8 55.3L135.5 58.9L135.9 62.4L136.4 65.1L137.3 67.5L134.2 69.2L129.7 71.4L125.3 73.3L124.8 70.4L124.4 66.9L125.3 63.3L125.3 59.8Z" fill="#b0e414"/>
<path d="M124.0 56.7L126.6 56.7L125.3 59.8L125.3 63.3L124.4 66.9L124.8 70.4L125.3 73.3L126.2 75.7L124.8 77.5L123.1 79.3L121.7 79.5L118.2 80.8L117.0 80.6L113.7 79.5L110.6 78.6L111.5 76.6L112.4 74.0L112.9 71.4L116.4 70.8L118.2 68.6L117.3 66.0L118.2 63.3L120.9 58.9Z" fill="#b0e414"/>
<path d="M125.3 73.3L129.7 71.4L134.2 69.2L137.3 67.5L141.5 67.5L140.4 70.0L142.2 72.7L144.4 75.0L141.6 76.6L140.5 78.8L142.7 81.0L140.5 82.5L137.7 81.3L134.2 79.9L129.7 78.5L126.6 77.6L124.8 77.5L126.2 75.7Z" fill="#ff0000"/>
<path d="M145.5 72.2L150.5 72.5L154.4 71.6L157.2 75.0L159.4 78.3L161.0 81.6L160.0 82.7L159.0 84.3L155.3 85.2L152.6 85.7L151.0 83.0L149.9 79.3L148.3 76.6L145.9 74.8L144.4 75.0L142.2 72.7Z" fill="#ff7d0a"/>
<path d="M144.4 75.0L145.9 74.8L148.3 76.6L149.9 79.3L151.0 83.0L152.6 85.7L152.7 87.2L149.9 88.8L146.0 87.7L143.3 86.8L143.3 84.2L140.5 82.5L142.7 81.0L140.5 78.8L141.6 76.6Z" fill="#ffb010"/>
<path d="M159.9 82.7L162.1 82.2L162.1 84.4L160.5 84.9Z" fill="#1aa51a"/>
<path d="M152.6 85.7L155.3 85.2L159.0 84.3L160.5 85.2L162.5 86.6L162.7 89.4L161.0 92.7L158.8 95.5L156.0 96.7L152.7 95.1L151.0 92.4L151.3 89.5L152.7 87.2Z" fill="#5ccf14"/>
<path d="M151.0 92.4L152.7 95.1L156.0 96.7L155.5 100.0L153.3 103.3L151.0 106.0L148.3 107.8L146.2 106.3L143.8 104.0L145.0 100.3L146.8 97.0L148.5 94.6L150.3 92.3Z" fill="#14be14"/>
<path d="M138.2 88.5L141.6 87.2L143.3 86.8L146.0 87.7L149.9 88.8L152.7 87.2L151.3 89.5L151.0 92.4L150.3 92.3L148.5 94.6L146.8 97.0L145.0 100.3L143.8 104.0L141.0 105.5L138.2 104.5L136.7 100.5L135.6 96.6L136.0 92.2L135.5 89.5Z" fill="#b0e414"/>
<path d="M123.1 79.3L124.8 77.5L126.6 77.6L129.7 78.5L134.2 79.9L137.7 81.3L140.5 82.5L143.3 84.2L143.3 86.8L141.6 87.2L138.2 88.5L135.5 89.5L132.1 88.4L127.7 88.9L123.8 88.4L121.3 89.7L119.2 88.3L120.3 86.7L123.1 84.5L121.5 83.4L121.7 79.5Z" fill="#ffff0a"/>
<path d="M121.3 89.7L123.8 88.4L127.7 88.9L132.1 88.4L135.5 89.5L136.0 92.2L135.6 96.6L136.7 100.5L134.5 102.8L131.3 103.5L129.2 105.3L127.2 102.5L126.6 100.3L122.2 100.6L120.3 99.5L119.8 96.2L118.7 93.0L119.8 91.2Z" fill="#ffb010"/>
<path d="M118.2 80.8L121.7 79.5L121.5 83.4L123.1 84.5L120.3 86.7L119.2 88.3L121.3 89.7L119.8 91.2L118.7 93.0L115.4 91.7L112.6 92.3L109.3 92.8L108.2 90.1L109.3 87.8L113.1 86.2L115.9 84.5L118.1 82.3L117.0 80.6Z" fill="#5ccf14"/>
<path d="M82.1 75.3L84.9 76.2L88.2 77.9L92.6 77.9L95.0 76.6L96.5 76.7L99.3 74.2L102.1 75.6L105.4 79.0L109.3 79.5L110.6 78.6L113.7 79.5L117.0 80.6L118.1 82.3L115.9 84.5L113.1 86.2L109.3 87.8L108.2 90.1L109.3 92.8L107.2 93.9L105.5 93.0L104.6 93.2L102.6 95.6L99.8 97.3L97.6 100.0L96.0 98.4L93.7 95.6L91.0 93.4L88.2 92.3L87.1 92.6L87.1 89.5L86.5 86.2L85.4 82.3L83.8 79.0Z" fill="#ff7d0a"/>
<path d="M109.3 92.8L112.6 92.3L115.4 91.7L118.7 93.0L119.8 96.2L120.3 99.5L119.4 102.2L114.4 103.3L111.1 104.9L106.6 104.9L105.7 103.5L104.6 101.0L102.9 98.2L105.5 96.0L105.8 94.5L105.5 93.0L107.2 93.9Z" fill="#5ccf14"/>
<path d="M87.1 92.6L88.2 92.3L91.0 93.4L93.7 95.6L96.0 98.4L97.6 100.0L99.8 97.3L102.6 95.6L104.6 93.2L105.5 93.0L105.8 94.5L105.5 96.0L102.9 98.2L104.6 101.0L105.7 103.5L106.6 104.9L107.6 106.6L109.6 108.7L105.7 110.4L101.8 112.1L98.0 112.6L95.7 114.3L94.6 116.5L91.9 114.8L89.6 113.7L88.0 110.9L86.3 108.7L83.0 107.1L82.4 105.4L85.2 102.1L85.8 98.2L85.2 94.9L86.0 92.3Z" fill="#ffff0a"/>
<path d="M106.6 104.9L111.1 104.9L114.4 103.3L119.4 102.2L120.3 99.5L122.2 100.6L126.6 100.3L127.2 102.5L129.2 105.3L128.3 108.9L126.6 111.6L124.9 113.8L123.3 115.5L121.0 115.0L117.7 115.5L114.4 114.4L111.3 112.1L109.6 108.7L107.6 106.6Z" fill="#14be14"/>
<path d="M129.2 105.3L131.3 103.5L134.5 102.8L136.7 100.5L138.2 104.5L141.0 105.5L143.8 104.0L146.2 106.3L148.3 107.8L144.9 109.6L141.0 111.6L137.7 113.3L133.3 114.4L128.8 115.5L126.2 117.2L125.2 119.8L123.8 120.3L122.6 119.4L123.3 115.5L124.9 113.8L126.6 111.6L128.3 108.9Z" fill="#b0e414"/>
<path d="M118.1 124.6L119.3 122.2L122.0 120.9L125.0 120.6L126.8 121.9L126.3 124.2L124.2 126.3L121.0 127.4L118.8 126.8Z" fill="#14be14"/>
<path d="M160.6 104.3L162.4 104.6L162.3 107.9L161.1 110.8L159.2 114.2L157.6 112.2L156.7 109.0L158.2 105.9Z" fill="#14be14"/>
<g stroke="none">
<rect x="52.3" y="20.7" width="84.9" height="2.9" fill="#f2f2f2" stroke="#000" stroke-width="0.5"/>
<rect x="52.3" y="20.7" width="5.3" height="2.9" fill="#000"/>
<rect x="62.9" y="20.7" width="5.3" height="2.9" fill="#000"/>
<rect x="73.5" y="20.7" width="21.3" height="2.9" fill="#000"/>
<rect x="116" y="20.7" width="21.2" height="2.9" fill="#000"/>
<text x="53" y="18.2" font-size="6.4" text-anchor="middle" fill="#222">0</text>
<text x="62.6" y="18.2" font-size="6.4" text-anchor="middle" fill="#222">350</text>
<text x="73.8" y="18.2" font-size="6.4" text-anchor="middle" fill="#222">700</text>
<text x="95" y="18.2" font-size="6.4" text-anchor="middle" fill="#222">1,400</text>
<text x="115.7" y="18.2" font-size="6.4" text-anchor="middle" fill="#222">2,100</text>
<text x="136.5" y="18.2" font-size="6.4" text-anchor="middle" fill="#222">2,800</text>
<text x="137.9" y="24.1" font-size="6.2" fill="#222">km</text>
<text x="106.8" y="36.9" font-size="4.2" text-anchor="middle" font-weight="bold" fill="#333">N</text>
<path d="M106.9 37.7L104.3 48L106.9 45.8Z" fill="#111"/><path d="M106.9 37.7L109.4 48L106.9 45.8Z" fill="#fff" stroke="#555" stroke-width="0.35"/>
<path d="M162.0 85.3L163.0 88L162.3 91.2L160.3 94.6L158.2 97L156.4 99.4L155.2 102.2L153 105L150 107.7L147 109.3" stroke="#111" stroke-width="1.05" fill="none" stroke-linejoin="round"/>
<path d="M147 109.3L143 111.4L138.5 113.1L134 114.3L129.5 115.5L126.3 117.2" stroke="#111" stroke-width="0.75" fill="none" stroke-linejoin="round"/>
<path d="M163.6 85.2L164.8 86.2M154.2 109L154.8 110" stroke="#222" stroke-width="0.7" fill="none"/>
<path d="M145.2 118.0L146.2 119.0" stroke="#222" stroke-width="0.65" fill="none"/>
<path d="M160.6 117.2L161.8 115.2" stroke="#222" stroke-width="0.65" fill="none"/>
<path d="M155.2 126.8L156.4 124.2" stroke="#222" stroke-width="0.65" fill="none"/>
<path d="M152.9 134.2L152.5 137.0" stroke="#222" stroke-width="0.65" fill="none"/>
<path d="M151.3 150.2L152.5 147.4" stroke="#222" stroke-width="0.65" fill="none"/>
<path d="M142.0 163.2L143.2 160.8" stroke="#222" stroke-width="0.65" fill="none"/>
<path d="M131.0 167.6L131.2 168.8" stroke="#222" stroke-width="0.65" fill="none"/>
<path d="M129.8 175.0L130.8 175.6" stroke="#222" stroke-width="0.65" fill="none"/>
<path d="M117.0 163.6L117.2 166.6" stroke="#222" stroke-width="0.65" fill="none"/>
<path d="M123.8 146.6L124.2 149.4" stroke="#222" stroke-width="0.65" fill="none"/>
<path d="M121.0 133.4L122.2 136.2" stroke="#222" stroke-width="0.65" fill="none"/>
<path d="M163.6 107.4L164.4 105.6" stroke="#222" stroke-width="0.65" fill="none"/>
<path d="M163.0 110.6L163.4 109.2" stroke="#222" stroke-width="0.65" fill="none"/>
<ellipse cx="128.6" cy="131.8" rx="0.7" ry="0.45" fill="#999" stroke="#333" stroke-width="0.35"/>
<ellipse cx="129.8" cy="132.6" rx="0.7" ry="0.45" fill="#999" stroke="#333" stroke-width="0.35"/>
<ellipse cx="130.6" cy="131.6" rx="0.7" ry="0.45" fill="#999" stroke="#333" stroke-width="0.35"/>
<ellipse cx="129.2" cy="133.4" rx="0.7" ry="0.45" fill="#999" stroke="#333" stroke-width="0.35"/>
<ellipse cx="137.4" cy="134.4" rx="0.7" ry="0.45" fill="#999" stroke="#333" stroke-width="0.35"/>
<ellipse cx="138.4" cy="134.8" rx="0.7" ry="0.45" fill="#999" stroke="#333" stroke-width="0.35"/>
<ellipse cx="148.8" cy="137.2" rx="0.7" ry="0.45" fill="#999" stroke="#333" stroke-width="0.35"/>
<ellipse cx="136.0" cy="150.2" rx="0.7" ry="0.45" fill="#999" stroke="#333" stroke-width="0.35"/>
<ellipse cx="137.6" cy="151.4" rx="0.7" ry="0.45" fill="#999" stroke="#333" stroke-width="0.35"/>
<ellipse cx="139.0" cy="150.6" rx="0.7" ry="0.45" fill="#999" stroke="#333" stroke-width="0.35"/>
<ellipse cx="141.2" cy="151.6" rx="0.7" ry="0.45" fill="#999" stroke="#333" stroke-width="0.35"/>
<ellipse cx="143.4" cy="152.6" rx="0.7" ry="0.45" fill="#999" stroke="#333" stroke-width="0.35"/>
<ellipse cx="145.0" cy="151.0" rx="0.7" ry="0.45" fill="#999" stroke="#333" stroke-width="0.35"/>
<ellipse cx="146.6" cy="152.8" rx="0.7" ry="0.45" fill="#999" stroke="#333" stroke-width="0.35"/>
<ellipse cx="138.6" cy="153.8" rx="0.7" ry="0.45" fill="#999" stroke="#333" stroke-width="0.35"/>
<ellipse cx="140.4" cy="154.6" rx="0.7" ry="0.45" fill="#999" stroke="#333" stroke-width="0.35"/>
<ellipse cx="142.4" cy="155.4" rx="0.7" ry="0.45" fill="#999" stroke="#333" stroke-width="0.35"/>
<ellipse cx="144.6" cy="155.8" rx="0.7" ry="0.45" fill="#999" stroke="#333" stroke-width="0.35"/>
<ellipse cx="136.2" cy="155.6" rx="0.7" ry="0.45" fill="#999" stroke="#333" stroke-width="0.35"/>
<ellipse cx="134.4" cy="157.4" rx="0.7" ry="0.45" fill="#999" stroke="#333" stroke-width="0.35"/>
<ellipse cx="136.8" cy="158.6" rx="0.7" ry="0.45" fill="#999" stroke="#333" stroke-width="0.35"/>
<ellipse cx="139.0" cy="157.8" rx="0.7" ry="0.45" fill="#999" stroke="#333" stroke-width="0.35"/>
<ellipse cx="141.0" cy="159.0" rx="0.7" ry="0.45" fill="#999" stroke="#333" stroke-width="0.35"/>
<ellipse cx="133.4" cy="159.6" rx="0.7" ry="0.45" fill="#999" stroke="#333" stroke-width="0.35"/>
<ellipse cx="135.6" cy="160.8" rx="0.7" ry="0.45" fill="#999" stroke="#333" stroke-width="0.35"/>
<ellipse cx="138.2" cy="161.2" rx="0.7" ry="0.45" fill="#999" stroke="#333" stroke-width="0.35"/>
<ellipse cx="123.0" cy="160.2" rx="0.7" ry="0.45" fill="#999" stroke="#333" stroke-width="0.35"/>
<ellipse cx="124.4" cy="161.0" rx="0.7" ry="0.45" fill="#999" stroke="#333" stroke-width="0.35"/>
<ellipse cx="131.4" cy="158.2" rx="0.7" ry="0.45" fill="#999" stroke="#333" stroke-width="0.35"/>
<ellipse cx="129.6" cy="159.8" rx="0.7" ry="0.45" fill="#999" stroke="#333" stroke-width="0.35"/>
</g>
</g>
<rect x="171.6" y="247.70" width="12.3" height="5.9" fill="#1aa51a"/>
<text class="lg" x="191.3" y="253.00" font-size="7" textLength="3.4" lengthAdjust="spacingAndGlyphs" fill="#1a1a1a" stroke="#1a1a1a" stroke-width="0.15">0</text>
<rect x="171.6" y="256.10" width="12.3" height="5.9" fill="#14be14"/>
<text class="lg" x="191.3" y="261.40" font-size="7" textLength="19.3" lengthAdjust="spacingAndGlyphs" fill="#1a1a1a" stroke="#1a1a1a" stroke-width="0.15">0.0-1.0</text>
<rect x="171.6" y="264.50" width="12.3" height="5.9" fill="#5ccf14"/>
<text class="lg" x="191.3" y="269.80" font-size="7" textLength="19.3" lengthAdjust="spacingAndGlyphs" fill="#1a1a1a" stroke="#1a1a1a" stroke-width="0.15">1.0-2.0</text>
<rect x="171.6" y="272.90" width="12.3" height="5.9" fill="#b0e414"/>
<text class="lg" x="191.3" y="278.20" font-size="7" textLength="19.3" lengthAdjust="spacingAndGlyphs" fill="#1a1a1a" stroke="#1a1a1a" stroke-width="0.15">2.0-3.0</text>
<rect x="171.6" y="281.30" width="12.3" height="5.9" fill="#ffff0a"/>
<text class="lg" x="191.3" y="286.60" font-size="7" textLength="19.3" lengthAdjust="spacingAndGlyphs" fill="#1a1a1a" stroke="#1a1a1a" stroke-width="0.15">3.0-4.0</text>
<rect x="171.6" y="289.70" width="12.3" height="5.9" fill="#ffb010"/>
<text class="lg" x="191.3" y="295.00" font-size="7" textLength="19.3" lengthAdjust="spacingAndGlyphs" fill="#1a1a1a" stroke="#1a1a1a" stroke-width="0.15">4.0-5.0</text>
<rect x="171.6" y="298.10" width="12.3" height="5.9" fill="#ff7d0a"/>
<text class="lg" x="191.3" y="303.40" font-size="7" textLength="19.3" lengthAdjust="spacingAndGlyphs" fill="#1a1a1a" stroke="#1a1a1a" stroke-width="0.15">5.0-6.0</text>
<rect x="171.6" y="306.50" width="12.3" height="5.9" fill="#ff460a"/>
<text class="lg" x="191.3" y="311.80" font-size="7" textLength="19.3" lengthAdjust="spacingAndGlyphs" fill="#1a1a1a" stroke="#1a1a1a" stroke-width="0.15">6.0-7.0</text>
<rect x="171.6" y="314.90" width="12.3" height="5.9" fill="#ff0000"/>
<text class="lg" x="191.3" y="320.20" font-size="7" textLength="19.3" lengthAdjust="spacingAndGlyphs" fill="#1a1a1a" stroke="#1a1a1a" stroke-width="0.15">7.0-8.0</text>
<text class="lt" transform="translate(20.9 218.2) scale(0.9 1)" font-size="17" fill="#000">C</text>
<g transform="matrix(0.982 0 0 0.982 223.65 187.04)" stroke="#1c1c00" stroke-width="0.55" stroke-linejoin="round">
<path d="M81.6 46.3L92.2 46.0L98.8 47.4L103.3 48.5L107.7 48.5L114.3 46.9L120.0 46.3L122.7 45.2L127.2 43.0L128.8 40.2L130.5 38.3L136.1 36.6L142.7 33.8L147.2 32.7L152.7 33.3L155.5 31.6L153.8 29.9L147.2 27.7L143.3 28.3L141.6 26.6L144.4 23.8L150.5 22.2L153.8 18.3L157.2 13.9L157.2 12.2L158.9 11.1L161.1 10.8L161.6 12.8L164.4 13.9L166.6 16.1L172.2 16.1L175.0 16.6L175.5 19.4L173.8 23.3L170.5 27.7L165.0 31.6L166.6 32.7L165.0 35.5L163.3 36.1L163.9 38.3L166.6 40.5L167.7 43.5L164.4 45.5L160.5 46.6L155.1 48.0L151.0 49.3L149.3 46.7L146.6 47.4L142.7 49.0L139.4 48.0L137.2 49.6L136.4 51.8L135.5 53.5L131.5 54.0L128.0 55.8L126.6 56.7L124.0 56.7L120.9 58.9L118.2 63.3L117.3 66.0L116.0 65.1L112.9 64.9L114.6 62.0L112.4 59.8L111.5 57.5L109.8 59.3L108.9 62.4L105.8 63.3L101.6 61.8L103.3 59.6L102.2 56.8L96.1 58.5L93.8 56.8L90.5 54.6L90.0 51.9L85.0 52.4L82.7 50.2Z" fill="#b0e414"/>
<path d="M2.8 57.6L5.5 54.3L11.1 52.6L17.7 50.4L24.4 47.7L26.1 44.3L26.4 41.0L24.6 38.6L31.6 36.6L34.1 32.0L42.4 30.8L44.6 27.5L49.1 24.7L52.9 27.5L58.2 31.6L59.5 36.6L66.5 39.1L75.0 42.5L77.8 45.5L72.0 51.0L66.6 56.8L62.0 58.2L58.2 60.7L59.9 66.6L57.0 68.0L55.7 67.0L50.0 66.5L44.3 67.6L36.6 69.3L28.8 70.0L23.8 70.4L20.0 73.2L17.2 70.4L12.2 68.7L9.4 65.9L6.1 64.3L6.7 62.6L4.4 60.4Z" fill="#5ccf14"/>
<path d="M20.0 73.2L23.8 70.4L28.8 70.0L36.6 69.3L44.3 67.6L50.0 66.5L55.7 67.0L57.0 68.0L57.4 69.1L56.5 73.3L59.9 76.6L66.5 78.3L70.0 79.1L76.6 81.6L81.0 79.5L82.1 75.3L83.8 79.0L85.4 82.3L86.5 86.2L87.1 89.5L87.1 92.6L86.0 92.3L81.5 93.4L76.0 93.4L69.8 94.9L66.6 97.4L64.0 97.4L58.2 94.9L53.2 95.7L46.6 94.9L39.1 92.4L31.6 88.3L24.9 84.9L20.8 82.8L19.2 81.5L18.8 79.8L20.5 76.5Z" fill="#14be14"/>
<path d="M57.0 68.0L59.9 66.6L58.2 60.7L62.0 58.2L66.6 56.8L70.0 57.4L80.0 58.0L81.0 59.0L86.6 59.0L90.0 60.7L95.0 61.8L97.7 64.0L98.9 67.3L97.6 70.7L95.4 73.4L93.2 74.8L95.0 76.6L92.6 77.9L88.2 77.9L84.9 76.2L82.1 75.3L81.0 79.5L76.6 81.6L70.0 79.1L66.5 78.3L59.9 76.6L56.5 73.3L57.4 69.1Z" fill="#14be14"/>
<path d="M77.8 45.5L81.6 46.3L82.7 50.2L85.0 52.4L90.0 51.9L90.5 54.6L93.8 56.8L96.1 58.5L102.2 56.8L103.3 59.6L101.6 61.8L105.8 63.3L107.5 64.6L108.9 66.9L110.2 69.5L112.4 68.4L112.9 64.9L116.0 65.1L117.7 66.4L118.2 68.6L116.4 70.8L112.9 71.4L112.4 74.0L111.5 76.6L110.6 78.6L109.3 79.5L105.4 79.0L102.1 75.6L99.3 74.2L96.5 76.7L95.0 76.6L93.2 74.8L95.4 73.4L97.6 70.7L98.9 67.3L97.7 64.0L95.0 61.8L90.0 60.7L86.6 59.0L81.0 59.0L80.0 58.0L70.0 57.4L66.6 56.8L72.0 51.0Z" fill="#5ccf14"/>
<path d="M111.5 57.5L112.4 59.8L114.6 62.0L112.9 64.9L112.4 68.4L110.2 69.5L108.9 66.9L107.5 64.6L105.8 63.3L108.9 62.4L109.8 59.3Z" fill="#14be14"/>
<path d="M161.1 10.8L163.3 10.0L168.8 10.0L173.8 11.1L176.6 13.3L178.8 17.7L181.6 21.6L185.5 23.3L189.9 24.4L192.2 27.7L195.5 29.4L200.5 27.7L205.5 26.9L204.4 30.0L202.2 33.3L199.4 36.6L196.6 37.7L192.7 38.8L193.3 42.4L190.5 42.7L187.2 42.2L184.4 39.6L179.4 38.2L173.3 36.6L168.8 34.4L165.0 35.5L166.6 32.7L165.0 31.6L170.5 27.7L173.8 23.3L175.5 19.4L175.0 16.6L172.2 16.1L166.6 16.1L164.4 13.9L161.6 12.8Z" fill="#ffb010"/>
<path d="M163.3 36.1L165.0 35.5L168.8 34.4L173.3 36.6L179.4 38.2L184.4 39.6L187.2 42.2L190.5 42.7L193.3 42.4L191.6 45.5L188.3 46.6L186.1 48.2L183.8 48.8L182.7 50.5L179.4 49.9L177.2 51.1L174.9 49.9L173.8 46.6L171.1 44.4L167.7 43.5L166.6 40.5L163.9 38.3Z" fill="#ffff0a"/>
<path d="M167.7 43.5L171.1 44.4L173.8 46.6L174.9 49.9L173.8 51.6L170.0 54.4L164.4 56.6L160.4 58.2L161.3 56.0L163.0 52.9L160.4 52.4L157.0 54.0L154.2 55.5L153.3 52.9L151.0 49.3L155.1 48.0L160.5 46.6L164.4 45.5Z" fill="#b0e414"/>
<path d="M137.2 49.6L139.4 48.0L142.7 49.0L146.6 47.4L149.3 46.7L151.0 49.3L153.3 52.9L154.2 55.5L151.0 57.3L148.9 58.6L148.0 60.4L145.3 63.0L143.8 64.3L141.5 67.5L137.3 67.5L136.4 65.1L135.9 62.4L135.5 58.9L136.8 55.3L135.5 53.5L136.4 51.8Z" fill="#ff460a"/>
<path d="M141.8 53.6L143.5 52.0L145.5 51.6L147.0 52.6L147.3 54.8L145.8 56.0L143.0 56.2L141.9 55.0Z" fill="#14be14"/>
<path d="M146.3 55.4L148.4 55.6L149.2 58.7L147.3 59.6L146.2 57.5Z" fill="#14be14"/>
<path d="M141.5 67.5L143.8 64.3L145.3 63.0L148.9 61.7L152.8 61.7L154.0 64.2L157.7 62.8L161.3 62.6L164.6 64.0L161.6 65.5L158.3 67.2L156.0 70.0L154.4 71.6L150.5 72.5L145.5 72.2L142.2 72.7L140.4 70.0Z" fill="#ff460a"/>
<path d="M126.6 56.7L128.0 55.8L131.5 54.0L135.5 53.5L136.8 55.3L135.5 58.9L135.9 62.4L136.4 65.1L137.3 67.5L134.2 69.2L129.7 71.4L125.3 73.3L124.8 70.4L124.4 66.9L125.3 63.3L125.3 59.8Z" fill="#b0e414"/>
<path d="M124.0 56.7L126.6 56.7L125.3 59.8L125.3 63.3L124.4 66.9L124.8 70.4L125.3 73.3L126.2 75.7L124.8 77.5L123.1 79.3L121.7 79.5L118.2 80.8L117.0 80.6L113.7 79.5L110.6 78.6L111.5 76.6L112.4 74.0L112.9 71.4L116.4 70.8L118.2 68.6L117.3 66.0L118.2 63.3L120.9 58.9Z" fill="#ffff0a"/>
<path d="M125.3 73.3L129.7 71.4L134.2 69.2L137.3 67.5L141.5 67.5L140.4 70.0L142.2 72.7L144.4 75.0L141.6 76.6L140.5 78.8L142.7 81.0L140.5 82.5L137.7 81.3L134.2 79.9L129.7 78.5L126.6 77.6L124.8 77.5L126.2 75.7Z" fill="#ff0000"/>
<path d="M145.5 72.2L150.5 72.5L154.4 71.6L157.2 75.0L159.4 78.3L161.0 81.6L160.0 82.7L159.0 84.3L155.3 85.2L152.6 85.7L151.0 83.0L149.9 79.3L148.3 76.6L145.9 74.8L144.4 75.0L142.2 72.7Z" fill="#ff7d0a"/>
<path d="M144.4 75.0L145.9 74.8L148.3 76.6L149.9 79.3L151.0 83.0L152.6 85.7L152.7 87.2L149.9 88.8L146.0 87.7L143.3 86.8L143.3 84.2L140.5 82.5L142.7 81.0L140.5 78.8L141.6 76.6Z" fill="#ffb010"/>
<path d="M159.9 82.7L162.1 82.2L162.1 84.4L160.5 84.9Z" fill="#1aa51a"/>
<path d="M152.6 85.7L155.3 85.2L159.0 84.3L160.5 85.2L162.5 86.6L162.7 89.4L161.0 92.7L158.8 95.5L156.0 96.7L152.7 95.1L151.0 92.4L151.3 89.5L152.7 87.2Z" fill="#5ccf14"/>
<path d="M151.0 92.4L152.7 95.1L156.0 96.7L155.5 100.0L153.3 103.3L151.0 106.0L148.3 107.8L146.2 106.3L143.8 104.0L145.0 100.3L146.8 97.0L148.5 94.6L150.3 92.3Z" fill="#14be14"/>
<path d="M138.2 88.5L141.6 87.2L143.3 86.8L146.0 87.7L149.9 88.8L152.7 87.2L151.3 89.5L151.0 92.4L150.3 92.3L148.5 94.6L146.8 97.0L145.0 100.3L143.8 104.0L141.0 105.5L138.2 104.5L136.7 100.5L135.6 96.6L136.0 92.2L135.5 89.5Z" fill="#b0e414"/>
<path d="M123.1 79.3L124.8 77.5L126.6 77.6L129.7 78.5L134.2 79.9L137.7 81.3L140.5 82.5L143.3 84.2L143.3 86.8L141.6 87.2L138.2 88.5L135.5 89.5L132.1 88.4L127.7 88.9L123.8 88.4L121.3 89.7L119.2 88.3L120.3 86.7L123.1 84.5L121.5 83.4L121.7 79.5Z" fill="#ffff0a"/>
<path d="M121.3 89.7L123.8 88.4L127.7 88.9L132.1 88.4L135.5 89.5L136.0 92.2L135.6 96.6L136.7 100.5L134.5 102.8L131.3 103.5L129.2 105.3L127.2 102.5L126.6 100.3L122.2 100.6L120.3 99.5L119.8 96.2L118.7 93.0L119.8 91.2Z" fill="#ffb010"/>
<path d="M118.2 80.8L121.7 79.5L121.5 83.4L123.1 84.5L120.3 86.7L119.2 88.3L121.3 89.7L119.8 91.2L118.7 93.0L115.4 91.7L112.6 92.3L109.3 92.8L108.2 90.1L109.3 87.8L113.1 86.2L115.9 84.5L118.1 82.3L117.0 80.6Z" fill="#5ccf14"/>
<path d="M82.1 75.3L84.9 76.2L88.2 77.9L92.6 77.9L95.0 76.6L96.5 76.7L99.3 74.2L102.1 75.6L105.4 79.0L109.3 79.5L110.6 78.6L113.7 79.5L117.0 80.6L118.1 82.3L115.9 84.5L113.1 86.2L109.3 87.8L108.2 90.1L109.3 92.8L107.2 93.9L105.5 93.0L104.6 93.2L102.6 95.6L99.8 97.3L97.6 100.0L96.0 98.4L93.7 95.6L91.0 93.4L88.2 92.3L87.1 92.6L87.1 89.5L86.5 86.2L85.4 82.3L83.8 79.0Z" fill="#ff7d0a"/>
<path d="M109.3 92.8L112.6 92.3L115.4 91.7L118.7 93.0L119.8 96.2L120.3 99.5L119.4 102.2L114.4 103.3L111.1 104.9L106.6 104.9L105.7 103.5L104.6 101.0L102.9 98.2L105.5 96.0L105.8 94.5L105.5 93.0L107.2 93.9Z" fill="#5ccf14"/>
<path d="M87.1 92.6L88.2 92.3L91.0 93.4L93.7 95.6L96.0 98.4L97.6 100.0L99.8 97.3L102.6 95.6L104.6 93.2L105.5 93.0L105.8 94.5L105.5 96.0L102.9 98.2L104.6 101.0L105.7 103.5L106.6 104.9L107.6 106.6L109.6 108.7L105.7 110.4L101.8 112.1L98.0 112.6L95.7 114.3L94.6 116.5L91.9 114.8L89.6 113.7L88.0 110.9L86.3 108.7L83.0 107.1L82.4 105.4L85.2 102.1L85.8 98.2L85.2 94.9L86.0 92.3Z" fill="#ffff0a"/>
<path d="M106.6 104.9L111.1 104.9L114.4 103.3L119.4 102.2L120.3 99.5L122.2 100.6L126.6 100.3L127.2 102.5L129.2 105.3L128.3 108.9L126.6 111.6L124.9 113.8L123.3 115.5L121.0 115.0L117.7 115.5L114.4 114.4L111.3 112.1L109.6 108.7L107.6 106.6Z" fill="#14be14"/>
<path d="M129.2 105.3L131.3 103.5L134.5 102.8L136.7 100.5L138.2 104.5L141.0 105.5L143.8 104.0L146.2 106.3L148.3 107.8L144.9 109.6L141.0 111.6L137.7 113.3L133.3 114.4L128.8 115.5L126.2 117.2L125.2 119.8L123.8 120.3L122.6 119.4L123.3 115.5L124.9 113.8L126.6 111.6L128.3 108.9Z" fill="#b0e414"/>
<path d="M118.1 124.6L119.3 122.2L122.0 120.9L125.0 120.6L126.8 121.9L126.3 124.2L124.2 126.3L121.0 127.4L118.8 126.8Z" fill="#14be14"/>
<path d="M160.6 104.3L162.4 104.6L162.3 107.9L161.1 110.8L159.2 114.2L157.6 112.2L156.7 109.0L158.2 105.9Z" fill="#14be14"/>
<g stroke="none">
<rect x="52.3" y="20.7" width="84.9" height="2.9" fill="#f2f2f2" stroke="#000" stroke-width="0.5"/>
<rect x="52.3" y="20.7" width="5.3" height="2.9" fill="#000"/>
<rect x="62.9" y="20.7" width="5.3" height="2.9" fill="#000"/>
<rect x="73.5" y="20.7" width="21.3" height="2.9" fill="#000"/>
<rect x="116" y="20.7" width="21.2" height="2.9" fill="#000"/>
<text x="53" y="18.2" font-size="6.4" text-anchor="middle" fill="#222">0</text>
<text x="62.6" y="18.2" font-size="6.4" text-anchor="middle" fill="#222">350</text>
<text x="73.8" y="18.2" font-size="6.4" text-anchor="middle" fill="#222">700</text>
<text x="95" y="18.2" font-size="6.4" text-anchor="middle" fill="#222">1,400</text>
<text x="115.7" y="18.2" font-size="6.4" text-anchor="middle" fill="#222">2,100</text>
<text x="136.5" y="18.2" font-size="6.4" text-anchor="middle" fill="#222">2,800</text>
<text x="137.9" y="24.1" font-size="6.2" fill="#222">km</text>
<text x="106.8" y="36.9" font-size="4.2" text-anchor="middle" font-weight="bold" fill="#333">N</text>
<path d="M106.9 37.7L104.3 48L106.9 45.8Z" fill="#111"/><path d="M106.9 37.7L109.4 48L106.9 45.8Z" fill="#fff" stroke="#555" stroke-width="0.35"/>
<path d="M162.0 85.3L163.0 88L162.3 91.2L160.3 94.6L158.2 97L156.4 99.4L155.2 102.2L153 105L150 107.7L147 109.3" stroke="#111" stroke-width="1.05" fill="none" stroke-linejoin="round"/>
<path d="M147 109.3L143 111.4L138.5 113.1L134 114.3L129.5 115.5L126.3 117.2" stroke="#111" stroke-width="0.75" fill="none" stroke-linejoin="round"/>
<path d="M163.6 85.2L164.8 86.2M154.2 109L154.8 110" stroke="#222" stroke-width="0.7" fill="none"/>
<path d="M145.2 118.0L146.2 119.0" stroke="#222" stroke-width="0.65" fill="none"/>
<path d="M160.6 117.2L161.8 115.2" stroke="#222" stroke-width="0.65" fill="none"/>
<path d="M155.2 126.8L156.4 124.2" stroke="#222" stroke-width="0.65" fill="none"/>
<path d="M152.9 134.2L152.5 137.0" stroke="#222" stroke-width="0.65" fill="none"/>
<path d="M151.3 150.2L152.5 147.4" stroke="#222" stroke-width="0.65" fill="none"/>
<path d="M142.0 163.2L143.2 160.8" stroke="#222" stroke-width="0.65" fill="none"/>
<path d="M131.0 167.6L131.2 168.8" stroke="#222" stroke-width="0.65" fill="none"/>
<path d="M129.8 175.0L130.8 175.6" stroke="#222" stroke-width="0.65" fill="none"/>
<path d="M117.0 163.6L117.2 166.6" stroke="#222" stroke-width="0.65" fill="none"/>
<path d="M123.8 146.6L124.2 149.4" stroke="#222" stroke-width="0.65" fill="none"/>
<path d="M121.0 133.4L122.2 136.2" stroke="#222" stroke-width="0.65" fill="none"/>
<path d="M163.6 107.4L164.4 105.6" stroke="#222" stroke-width="0.65" fill="none"/>
<path d="M163.0 110.6L163.4 109.2" stroke="#222" stroke-width="0.65" fill="none"/>
<ellipse cx="128.6" cy="131.8" rx="0.7" ry="0.45" fill="#999" stroke="#333" stroke-width="0.35"/>
<ellipse cx="129.8" cy="132.6" rx="0.7" ry="0.45" fill="#999" stroke="#333" stroke-width="0.35"/>
<ellipse cx="130.6" cy="131.6" rx="0.7" ry="0.45" fill="#999" stroke="#333" stroke-width="0.35"/>
<ellipse cx="129.2" cy="133.4" rx="0.7" ry="0.45" fill="#999" stroke="#333" stroke-width="0.35"/>
<ellipse cx="137.4" cy="134.4" rx="0.7" ry="0.45" fill="#999" stroke="#333" stroke-width="0.35"/>
<ellipse cx="138.4" cy="134.8" rx="0.7" ry="0.45" fill="#999" stroke="#333" stroke-width="0.35"/>
<ellipse cx="148.8" cy="137.2" rx="0.7" ry="0.45" fill="#999" stroke="#333" stroke-width="0.35"/>
<ellipse cx="136.0" cy="150.2" rx="0.7" ry="0.45" fill="#999" stroke="#333" stroke-width="0.35"/>
<ellipse cx="137.6" cy="151.4" rx="0.7" ry="0.45" fill="#999" stroke="#333" stroke-width="0.35"/>
<ellipse cx="139.0" cy="150.6" rx="0.7" ry="0.45" fill="#999" stroke="#333" stroke-width="0.35"/>
<ellipse cx="141.2" cy="151.6" rx="0.7" ry="0.45" fill="#999" stroke="#333" stroke-width="0.35"/>
<ellipse cx="143.4" cy="152.6" rx="0.7" ry="0.45" fill="#999" stroke="#333" stroke-width="0.35"/>
<ellipse cx="145.0" cy="151.0" rx="0.7" ry="0.45" fill="#999" stroke="#333" stroke-width="0.35"/>
<ellipse cx="146.6" cy="152.8" rx="0.7" ry="0.45" fill="#999" stroke="#333" stroke-width="0.35"/>
<ellipse cx="138.6" cy="153.8" rx="0.7" ry="0.45" fill="#999" stroke="#333" stroke-width="0.35"/>
<ellipse cx="140.4" cy="154.6" rx="0.7" ry="0.45" fill="#999" stroke="#333" stroke-width="0.35"/>
<ellipse cx="142.4" cy="155.4" rx="0.7" ry="0.45" fill="#999" stroke="#333" stroke-width="0.35"/>
<ellipse cx="144.6" cy="155.8" rx="0.7" ry="0.45" fill="#999" stroke="#333" stroke-width="0.35"/>
<ellipse cx="136.2" cy="155.6" rx="0.7" ry="0.45" fill="#999" stroke="#333" stroke-width="0.35"/>
<ellipse cx="134.4" cy="157.4" rx="0.7" ry="0.45" fill="#999" stroke="#333" stroke-width="0.35"/>
<ellipse cx="136.8" cy="158.6" rx="0.7" ry="0.45" fill="#999" stroke="#333" stroke-width="0.35"/>
<ellipse cx="139.0" cy="157.8" rx="0.7" ry="0.45" fill="#999" stroke="#333" stroke-width="0.35"/>
<ellipse cx="141.0" cy="159.0" rx="0.7" ry="0.45" fill="#999" stroke="#333" stroke-width="0.35"/>
<ellipse cx="133.4" cy="159.6" rx="0.7" ry="0.45" fill="#999" stroke="#333" stroke-width="0.35"/>
<ellipse cx="135.6" cy="160.8" rx="0.7" ry="0.45" fill="#999" stroke="#333" stroke-width="0.35"/>
<ellipse cx="138.2" cy="161.2" rx="0.7" ry="0.45" fill="#999" stroke="#333" stroke-width="0.35"/>
<ellipse cx="123.0" cy="160.2" rx="0.7" ry="0.45" fill="#999" stroke="#333" stroke-width="0.35"/>
<ellipse cx="124.4" cy="161.0" rx="0.7" ry="0.45" fill="#999" stroke="#333" stroke-width="0.35"/>
<ellipse cx="131.4" cy="158.2" rx="0.7" ry="0.45" fill="#999" stroke="#333" stroke-width="0.35"/>
<ellipse cx="129.6" cy="159.8" rx="0.7" ry="0.45" fill="#999" stroke="#333" stroke-width="0.35"/>
</g>
</g>
<rect x="389.3" y="248.50" width="11.9" height="5.9" fill="#1aa51a"/>
<text class="lg" x="410.2" y="253.80" font-size="7" textLength="3.5" lengthAdjust="spacingAndGlyphs" fill="#1a1a1a" stroke="#1a1a1a" stroke-width="0.15">0</text>
<rect x="389.3" y="256.66" width="11.9" height="5.9" fill="#14be14"/>
<text class="lg" x="410.2" y="261.96" font-size="7" textLength="19.6" lengthAdjust="spacingAndGlyphs" fill="#1a1a1a" stroke="#1a1a1a" stroke-width="0.15">0.0-1.0</text>
<rect x="389.3" y="264.82" width="11.9" height="5.9" fill="#5ccf14"/>
<text class="lg" x="410.2" y="270.12" font-size="7" textLength="19.6" lengthAdjust="spacingAndGlyphs" fill="#1a1a1a" stroke="#1a1a1a" stroke-width="0.15">1.0-2.0</text>
<rect x="389.3" y="272.98" width="11.9" height="5.9" fill="#b0e414"/>
<text class="lg" x="410.2" y="278.28" font-size="7" textLength="19.6" lengthAdjust="spacingAndGlyphs" fill="#1a1a1a" stroke="#1a1a1a" stroke-width="0.15">2.0-3.0</text>
<rect x="389.3" y="281.14" width="11.9" height="5.9" fill="#ffff0a"/>
<text class="lg" x="410.2" y="286.44" font-size="7" textLength="19.6" lengthAdjust="spacingAndGlyphs" fill="#1a1a1a" stroke="#1a1a1a" stroke-width="0.15">3.0-4.0</text>
<rect x="389.3" y="289.30" width="11.9" height="5.9" fill="#ffb010"/>
<text class="lg" x="410.2" y="294.60" font-size="7" textLength="19.6" lengthAdjust="spacingAndGlyphs" fill="#1a1a1a" stroke="#1a1a1a" stroke-width="0.15">4.0-5.0</text>
<rect x="389.3" y="297.46" width="11.9" height="5.9" fill="#ff7d0a"/>
<text class="lg" x="410.2" y="302.76" font-size="7" textLength="19.6" lengthAdjust="spacingAndGlyphs" fill="#1a1a1a" stroke="#1a1a1a" stroke-width="0.15">5.0-6.0</text>
<rect x="389.3" y="305.62" width="11.9" height="5.9" fill="#ff460a"/>
<text class="lg" x="410.2" y="310.92" font-size="7" textLength="19.6" lengthAdjust="spacingAndGlyphs" fill="#1a1a1a" stroke="#1a1a1a" stroke-width="0.15">6.0-7.0</text>
<rect x="389.3" y="313.78" width="11.9" height="5.9" fill="#ff0000"/>
<text class="lg" x="410.2" y="319.08" font-size="7" textLength="19.6" lengthAdjust="spacingAndGlyphs" fill="#1a1a1a" stroke="#1a1a1a" stroke-width="0.15">8.0-9.0</text>
<text class="lt" transform="translate(230.6 218.4) scale(0.93 1)" font-size="17" fill="#000">D</text>
<g transform="matrix(1 0 0 1 -1.7 363.0)" stroke="#1c1c00" stroke-width="0.55" stroke-linejoin="round">
<path d="M81.6 46.3L92.2 46.0L98.8 47.4L103.3 48.5L107.7 48.5L114.3 46.9L120.0 46.3L122.7 45.2L127.2 43.0L128.8 40.2L130.5 38.3L136.1 36.6L142.7 33.8L147.2 32.7L152.7 33.3L155.5 31.6L153.8 29.9L147.2 27.7L143.3 28.3L141.6 26.6L144.4 23.8L150.5 22.2L153.8 18.3L157.2 13.9L157.2 12.2L158.9 11.1L161.1 10.8L161.6 12.8L164.4 13.9L166.6 16.1L172.2 16.1L175.0 16.6L175.5 19.4L173.8 23.3L170.5 27.7L165.0 31.6L166.6 32.7L165.0 35.5L163.3 36.1L163.9 38.3L166.6 40.5L167.7 43.5L164.4 45.5L160.5 46.6L155.1 48.0L151.0 49.3L149.3 46.7L146.6 47.4L142.7 49.0L139.4 48.0L137.2 49.6L136.4 51.8L135.5 53.5L131.5 54.0L128.0 55.8L126.6 56.7L124.0 56.7L120.9 58.9L118.2 63.3L117.3 66.0L116.0 65.1L112.9 64.9L114.6 62.0L112.4 59.8L111.5 57.5L109.8 59.3L108.9 62.4L105.8 63.3L101.6 61.8L103.3 59.6L102.2 56.8L96.1 58.5L93.8 56.8L90.5 54.6L90.0 51.9L85.0 52.4L82.7 50.2Z" fill="#8cd714"/>
<path d="M2.8 57.6L5.5 54.3L11.1 52.6L17.7 50.4L24.4 47.7L26.1 44.3L26.4 41.0L24.6 38.6L31.6 36.6L34.1 32.0L42.4 30.8L44.6 27.5L49.1 24.7L52.9 27.5L58.2 31.6L59.5 36.6L66.5 39.1L75.0 42.5L77.8 45.5L72.0 51.0L66.6 56.8L62.0 58.2L58.2 60.7L59.9 66.6L57.0 68.0L55.7 67.0L50.0 66.5L44.3 67.6L36.6 69.3L28.8 70.0L23.8 70.4L20.0 73.2L17.2 70.4L12.2 68.7L9.4 65.9L6.1 64.3L6.7 62.6L4.4 60.4Z" fill="#4bc814"/>
<path d="M20.0 73.2L23.8 70.4L28.8 70.0L36.6 69.3L44.3 67.6L50.0 66.5L55.7 67.0L57.0 68.0L57.4 69.1L56.5 73.3L59.9 76.6L66.5 78.3L70.0 79.1L76.6 81.6L81.0 79.5L82.1 75.3L83.8 79.0L85.4 82.3L86.5 86.2L87.1 89.5L87.1 92.6L86.0 92.3L81.5 93.4L76.0 93.4L69.8 94.9L66.6 97.4L64.0 97.4L58.2 94.9L53.2 95.7L46.6 94.9L39.1 92.4L31.6 88.3L24.9 84.9L20.8 82.8L19.2 81.5L18.8 79.8L20.5 76.5Z" fill="#14be14"/>
<path d="M57.0 68.0L59.9 66.6L58.2 60.7L62.0 58.2L66.6 56.8L70.0 57.4L80.0 58.0L81.0 59.0L86.6 59.0L90.0 60.7L95.0 61.8L97.7 64.0L98.9 67.3L97.6 70.7L95.4 73.4L93.2 74.8L95.0 76.6L92.6 77.9L88.2 77.9L84.9 76.2L82.1 75.3L81.0 79.5L76.6 81.6L70.0 79.1L66.5 78.3L59.9 76.6L56.5 73.3L57.4 69.1Z" fill="#14be14"/>
<path d="M77.8 45.5L81.6 46.3L82.7 50.2L85.0 52.4L90.0 51.9L90.5 54.6L93.8 56.8L96.1 58.5L102.2 56.8L103.3 59.6L101.6 61.8L105.8 63.3L107.5 64.6L108.9 66.9L110.2 69.5L112.4 68.4L112.9 64.9L116.0 65.1L117.7 66.4L118.2 68.6L116.4 70.8L112.9 71.4L112.4 74.0L111.5 76.6L110.6 78.6L109.3 79.5L105.4 79.0L102.1 75.6L99.3 74.2L96.5 76.7L95.0 76.6L93.2 74.8L95.4 73.4L97.6 70.7L98.9 67.3L97.7 64.0L95.0 61.8L90.0 60.7L86.6 59.0L81.0 59.0L80.0 58.0L70.0 57.4L66.6 56.8L72.0 51.0Z" fill="#8cd714"/>
<path d="M111.5 57.5L112.4 59.8L114.6 62.0L112.9 64.9L112.4 68.4L110.2 69.5L108.9 66.9L107.5 64.6L105.8 63.3L108.9 62.4L109.8 59.3Z" fill="#14be14"/>
<path d="M161.1 10.8L163.3 10.0L168.8 10.0L173.8 11.1L176.6 13.3L178.8 17.7L181.6 21.6L185.5 23.3L189.9 24.4L192.2 27.7L195.5 29.4L200.5 27.7L205.5 26.9L204.4 30.0L202.2 33.3L199.4 36.6L196.6 37.7L192.7 38.8L193.3 42.4L190.5 42.7L187.2 42.2L184.4 39.6L179.4 38.2L173.3 36.6L168.8 34.4L165.0 35.5L166.6 32.7L165.0 31.6L170.5 27.7L173.8 23.3L175.5 19.4L175.0 16.6L172.2 16.1L166.6 16.1L164.4 13.9L161.6 12.8Z" fill="#ffdc00"/>
<path d="M163.3 36.1L165.0 35.5L168.8 34.4L173.3 36.6L179.4 38.2L184.4 39.6L187.2 42.2L190.5 42.7L193.3 42.4L191.6 45.5L188.3 46.6L186.1 48.2L183.8 48.8L182.7 50.5L179.4 49.9L177.2 51.1L174.9 49.9L173.8 46.6L171.1 44.4L167.7 43.5L166.6 40.5L163.9 38.3Z" fill="#d7f00f"/>
<path d="M167.7 43.5L171.1 44.4L173.8 46.6L174.9 49.9L173.8 51.6L170.0 54.4L164.4 56.6L160.4 58.2L161.3 56.0L163.0 52.9L160.4 52.4L157.0 54.0L154.2 55.5L153.3 52.9L151.0 49.3L155.1 48.0L160.5 46.6L164.4 45.5Z" fill="#8cd714"/>
<path d="M137.2 49.6L139.4 48.0L142.7 49.0L146.6 47.4L149.3 46.7L151.0 49.3L153.3 52.9L154.2 55.5L151.0 57.3L148.9 58.6L148.0 60.4L145.3 63.0L143.8 64.3L141.5 67.5L137.3 67.5L136.4 65.1L135.9 62.4L135.5 58.9L136.8 55.3L135.5 53.5L136.4 51.8Z" fill="#ff6e05"/>
<path d="M141.8 53.6L143.5 52.0L145.5 51.6L147.0 52.6L147.3 54.8L145.8 56.0L143.0 56.2L141.9 55.0Z" fill="#14be14"/>
<path d="M146.3 55.4L148.4 55.6L149.2 58.7L147.3 59.6L146.2 57.5Z" fill="#14be14"/>
<path d="M141.5 67.5L143.8 64.3L145.3 63.0L148.9 61.7L152.8 61.7L154.0 64.2L157.7 62.8L161.3 62.6L164.6 64.0L161.6 65.5L158.3 67.2L156.0 70.0L154.4 71.6L150.5 72.5L145.5 72.2L142.2 72.7L140.4 70.0Z" fill="#ff370a"/>
<path d="M126.6 56.7L128.0 55.8L131.5 54.0L135.5 53.5L136.8 55.3L135.5 58.9L135.9 62.4L136.4 65.1L137.3 67.5L134.2 69.2L129.7 71.4L125.3 73.3L124.8 70.4L124.4 66.9L125.3 63.3L125.3 59.8Z" fill="#8cd714"/>
<path d="M124.0 56.7L126.6 56.7L125.3 59.8L125.3 63.3L124.4 66.9L124.8 70.4L125.3 73.3L126.2 75.7L124.8 77.5L123.1 79.3L121.7 79.5L118.2 80.8L117.0 80.6L113.7 79.5L110.6 78.6L111.5 76.6L112.4 74.0L112.9 71.4L116.4 70.8L118.2 68.6L117.3 66.0L118.2 63.3L120.9 58.9Z" fill="#d7f00f"/>
<path d="M125.3 73.3L129.7 71.4L134.2 69.2L137.3 67.5L141.5 67.5L140.4 70.0L142.2 72.7L144.4 75.0L141.6 76.6L140.5 78.8L142.7 81.0L140.5 82.5L137.7 81.3L134.2 79.9L129.7 78.5L126.6 77.6L124.8 77.5L126.2 75.7Z" fill="#ff0000"/>
<path d="M145.5 72.2L150.5 72.5L154.4 71.6L157.2 75.0L159.4 78.3L161.0 81.6L160.0 82.7L159.0 84.3L155.3 85.2L152.6 85.7L151.0 83.0L149.9 79.3L148.3 76.6L145.9 74.8L144.4 75.0L142.2 72.7Z" fill="#ffa505"/>
<path d="M144.4 75.0L145.9 74.8L148.3 76.6L149.9 79.3L151.0 83.0L152.6 85.7L152.7 87.2L149.9 88.8L146.0 87.7L143.3 86.8L143.3 84.2L140.5 82.5L142.7 81.0L140.5 78.8L141.6 76.6Z" fill="#ffdc00"/>
<path d="M159.9 82.7L162.1 82.2L162.1 84.4L160.5 84.9Z" fill="#1aa51a"/>
<path d="M152.6 85.7L155.3 85.2L159.0 84.3L160.5 85.2L162.5 86.6L162.7 89.4L161.0 92.7L158.8 95.5L156.0 96.7L152.7 95.1L151.0 92.4L151.3 89.5L152.7 87.2Z" fill="#4bc814"/>
<path d="M151.0 92.4L152.7 95.1L156.0 96.7L155.5 100.0L153.3 103.3L151.0 106.0L148.3 107.8L146.2 106.3L143.8 104.0L145.0 100.3L146.8 97.0L148.5 94.6L150.3 92.3Z" fill="#14be14"/>
<path d="M138.2 88.5L141.6 87.2L143.3 86.8L146.0 87.7L149.9 88.8L152.7 87.2L151.3 89.5L151.0 92.4L150.3 92.3L148.5 94.6L146.8 97.0L145.0 100.3L143.8 104.0L141.0 105.5L138.2 104.5L136.7 100.5L135.6 96.6L136.0 92.2L135.5 89.5Z" fill="#8cd714"/>
<path d="M123.1 79.3L124.8 77.5L126.6 77.6L129.7 78.5L134.2 79.9L137.7 81.3L140.5 82.5L143.3 84.2L143.3 86.8L141.6 87.2L138.2 88.5L135.5 89.5L132.1 88.4L127.7 88.9L123.8 88.4L121.3 89.7L119.2 88.3L120.3 86.7L123.1 84.5L121.5 83.4L121.7 79.5Z" fill="#ffdc00"/>
<path d="M121.3 89.7L123.8 88.4L127.7 88.9L132.1 88.4L135.5 89.5L136.0 92.2L135.6 96.6L136.7 100.5L134.5 102.8L131.3 103.5L129.2 105.3L127.2 102.5L126.6 100.3L122.2 100.6L120.3 99.5L119.8 96.2L118.7 93.0L119.8 91.2Z" fill="#ffdc00"/>
<path d="M118.2 80.8L121.7 79.5L121.5 83.4L123.1 84.5L120.3 86.7L119.2 88.3L121.3 89.7L119.8 91.2L118.7 93.0L115.4 91.7L112.6 92.3L109.3 92.8L108.2 90.1L109.3 87.8L113.1 86.2L115.9 84.5L118.1 82.3L117.0 80.6Z" fill="#4bc814"/>
<path d="M82.1 75.3L84.9 76.2L88.2 77.9L92.6 77.9L95.0 76.6L96.5 76.7L99.3 74.2L102.1 75.6L105.4 79.0L109.3 79.5L110.6 78.6L113.7 79.5L117.0 80.6L118.1 82.3L115.9 84.5L113.1 86.2L109.3 87.8L108.2 90.1L109.3 92.8L107.2 93.9L105.5 93.0L104.6 93.2L102.6 95.6L99.8 97.3L97.6 100.0L96.0 98.4L93.7 95.6L91.0 93.4L88.2 92.3L87.1 92.6L87.1 89.5L86.5 86.2L85.4 82.3L83.8 79.0Z" fill="#ffa505"/>
<path d="M109.3 92.8L112.6 92.3L115.4 91.7L118.7 93.0L119.8 96.2L120.3 99.5L119.4 102.2L114.4 103.3L111.1 104.9L106.6 104.9L105.7 103.5L104.6 101.0L102.9 98.2L105.5 96.0L105.8 94.5L105.5 93.0L107.2 93.9Z" fill="#4bc814"/>
<path d="M87.1 92.6L88.2 92.3L91.0 93.4L93.7 95.6L96.0 98.4L97.6 100.0L99.8 97.3L102.6 95.6L104.6 93.2L105.5 93.0L105.8 94.5L105.5 96.0L102.9 98.2L104.6 101.0L105.7 103.5L106.6 104.9L107.6 106.6L109.6 108.7L105.7 110.4L101.8 112.1L98.0 112.6L95.7 114.3L94.6 116.5L91.9 114.8L89.6 113.7L88.0 110.9L86.3 108.7L83.0 107.1L82.4 105.4L85.2 102.1L85.8 98.2L85.2 94.9L86.0 92.3Z" fill="#ffdc00"/>
<path d="M106.6 104.9L111.1 104.9L114.4 103.3L119.4 102.2L120.3 99.5L122.2 100.6L126.6 100.3L127.2 102.5L129.2 105.3L128.3 108.9L126.6 111.6L124.9 113.8L123.3 115.5L121.0 115.0L117.7 115.5L114.4 114.4L111.3 112.1L109.6 108.7L107.6 106.6Z" fill="#14be14"/>
<path d="M129.2 105.3L131.3 103.5L134.5 102.8L136.7 100.5L138.2 104.5L141.0 105.5L143.8 104.0L146.2 106.3L148.3 107.8L144.9 109.6L141.0 111.6L137.7 113.3L133.3 114.4L128.8 115.5L126.2 117.2L125.2 119.8L123.8 120.3L122.6 119.4L123.3 115.5L124.9 113.8L126.6 111.6L128.3 108.9Z" fill="#8cd714"/>
<path d="M118.1 124.6L119.3 122.2L122.0 120.9L125.0 120.6L126.8 121.9L126.3 124.2L124.2 126.3L121.0 127.4L118.8 126.8Z" fill="#14be14"/>
<path d="M160.6 104.3L162.4 104.6L162.3 107.9L161.1 110.8L159.2 114.2L157.6 112.2L156.7 109.0L158.2 105.9Z" fill="#14be14"/>
<g stroke="none">
<rect x="52.3" y="20.7" width="84.9" height="2.9" fill="#f2f2f2" stroke="#000" stroke-width="0.5"/>
<rect x="52.3" y="20.7" width="5.3" height="2.9" fill="#000"/>
<rect x="62.9" y="20.7" width="5.3" height="2.9" fill="#000"/>
<rect x="73.5" y="20.7" width="21.3" height="2.9" fill="#000"/>
<rect x="116" y="20.7" width="21.2" height="2.9" fill="#000"/>
<text x="53" y="18.2" font-size="6.4" text-anchor="middle" fill="#222">0</text>
<text x="62.6" y="18.2" font-size="6.4" text-anchor="middle" fill="#222">350</text>
<text x="73.8" y="18.2" font-size="6.4" text-anchor="middle" fill="#222">700</text>
<text x="95" y="18.2" font-size="6.4" text-anchor="middle" fill="#222">1,400</text>
<text x="115.7" y="18.2" font-size="6.4" text-anchor="middle" fill="#222">2,100</text>
<text x="136.5" y="18.2" font-size="6.4" text-anchor="middle" fill="#222">2,800</text>
<text x="137.9" y="24.1" font-size="6.2" fill="#222">km</text>
<text x="106.8" y="36.9" font-size="4.2" text-anchor="middle" font-weight="bold" fill="#333">N</text>
<path d="M106.9 37.7L104.3 48L106.9 45.8Z" fill="#111"/><path d="M106.9 37.7L109.4 48L106.9 45.8Z" fill="#fff" stroke="#555" stroke-width="0.35"/>
<path d="M162.0 85.3L163.0 88L162.3 91.2L160.3 94.6L158.2 97L156.4 99.4L155.2 102.2L153 105L150 107.7L147 109.3" stroke="#111" stroke-width="1.05" fill="none" stroke-linejoin="round"/>
<path d="M147 109.3L143 111.4L138.5 113.1L134 114.3L129.5 115.5L126.3 117.2" stroke="#111" stroke-width="0.75" fill="none" stroke-linejoin="round"/>
<path d="M163.6 85.2L164.8 86.2M154.2 109L154.8 110" stroke="#222" stroke-width="0.7" fill="none"/>
<path d="M145.2 118.0L146.2 119.0" stroke="#222" stroke-width="0.65" fill="none"/>
<path d="M160.6 117.2L161.8 115.2" stroke="#222" stroke-width="0.65" fill="none"/>
<path d="M155.2 126.8L156.4 124.2" stroke="#222" stroke-width="0.65" fill="none"/>
<path d="M152.9 134.2L152.5 137.0" stroke="#222" stroke-width="0.65" fill="none"/>
<path d="M151.3 150.2L152.5 147.4" stroke="#222" stroke-width="0.65" fill="none"/>
<path d="M142.0 163.2L143.2 160.8" stroke="#222" stroke-width="0.65" fill="none"/>
<path d="M131.0 167.6L131.2 168.8" stroke="#222" stroke-width="0.65" fill="none"/>
<path d="M129.8 175.0L130.8 175.6" stroke="#222" stroke-width="0.65" fill="none"/>
<path d="M117.0 163.6L117.2 166.6" stroke="#222" stroke-width="0.65" fill="none"/>
<path d="M123.8 146.6L124.2 149.4" stroke="#222" stroke-width="0.65" fill="none"/>
<path d="M121.0 133.4L122.2 136.2" stroke="#222" stroke-width="0.65" fill="none"/>
<path d="M163.6 107.4L164.4 105.6" stroke="#222" stroke-width="0.65" fill="none"/>
<path d="M163.0 110.6L163.4 109.2" stroke="#222" stroke-width="0.65" fill="none"/>
<ellipse cx="128.6" cy="131.8" rx="0.7" ry="0.45" fill="#999" stroke="#333" stroke-width="0.35"/>
<ellipse cx="129.8" cy="132.6" rx="0.7" ry="0.45" fill="#999" stroke="#333" stroke-width="0.35"/>
<ellipse cx="130.6" cy="131.6" rx="0.7" ry="0.45" fill="#999" stroke="#333" stroke-width="0.35"/>
<ellipse cx="129.2" cy="133.4" rx="0.7" ry="0.45" fill="#999" stroke="#333" stroke-width="0.35"/>
<ellipse cx="137.4" cy="134.4" rx="0.7" ry="0.45" fill="#999" stroke="#333" stroke-width="0.35"/>
<ellipse cx="138.4" cy="134.8" rx="0.7" ry="0.45" fill="#999" stroke="#333" stroke-width="0.35"/>
<ellipse cx="148.8" cy="137.2" rx="0.7" ry="0.45" fill="#999" stroke="#333" stroke-width="0.35"/>
<ellipse cx="136.0" cy="150.2" rx="0.7" ry="0.45" fill="#999" stroke="#333" stroke-width="0.35"/>
<ellipse cx="137.6" cy="151.4" rx="0.7" ry="0.45" fill="#999" stroke="#333" stroke-width="0.35"/>
<ellipse cx="139.0" cy="150.6" rx="0.7" ry="0.45" fill="#999" stroke="#333" stroke-width="0.35"/>
<ellipse cx="141.2" cy="151.6" rx="0.7" ry="0.45" fill="#999" stroke="#333" stroke-width="0.35"/>
<ellipse cx="143.4" cy="152.6" rx="0.7" ry="0.45" fill="#999" stroke="#333" stroke-width="0.35"/>
<ellipse cx="145.0" cy="151.0" rx="0.7" ry="0.45" fill="#999" stroke="#333" stroke-width="0.35"/>
<ellipse cx="146.6" cy="152.8" rx="0.7" ry="0.45" fill="#999" stroke="#333" stroke-width="0.35"/>
<ellipse cx="138.6" cy="153.8" rx="0.7" ry="0.45" fill="#999" stroke="#333" stroke-width="0.35"/>
<ellipse cx="140.4" cy="154.6" rx="0.7" ry="0.45" fill="#999" stroke="#333" stroke-width="0.35"/>
<ellipse cx="142.4" cy="155.4" rx="0.7" ry="0.45" fill="#999" stroke="#333" stroke-width="0.35"/>
<ellipse cx="144.6" cy="155.8" rx="0.7" ry="0.45" fill="#999" stroke="#333" stroke-width="0.35"/>
<ellipse cx="136.2" cy="155.6" rx="0.7" ry="0.45" fill="#999" stroke="#333" stroke-width="0.35"/>
<ellipse cx="134.4" cy="157.4" rx="0.7" ry="0.45" fill="#999" stroke="#333" stroke-width="0.35"/>
<ellipse cx="136.8" cy="158.6" rx="0.7" ry="0.45" fill="#999" stroke="#333" stroke-width="0.35"/>
<ellipse cx="139.0" cy="157.8" rx="0.7" ry="0.45" fill="#999" stroke="#333" stroke-width="0.35"/>
<ellipse cx="141.0" cy="159.0" rx="0.7" ry="0.45" fill="#999" stroke="#333" stroke-width="0.35"/>
<ellipse cx="133.4" cy="159.6" rx="0.7" ry="0.45" fill="#999" stroke="#333" stroke-width="0.35"/>
<ellipse cx="135.6" cy="160.8" rx="0.7" ry="0.45" fill="#999" stroke="#333" stroke-width="0.35"/>
<ellipse cx="138.2" cy="161.2" rx="0.7" ry="0.45" fill="#999" stroke="#333" stroke-width="0.35"/>
<ellipse cx="123.0" cy="160.2" rx="0.7" ry="0.45" fill="#999" stroke="#333" stroke-width="0.35"/>
<ellipse cx="124.4" cy="161.0" rx="0.7" ry="0.45" fill="#999" stroke="#333" stroke-width="0.35"/>
<ellipse cx="131.4" cy="158.2" rx="0.7" ry="0.45" fill="#999" stroke="#333" stroke-width="0.35"/>
<ellipse cx="129.6" cy="159.8" rx="0.7" ry="0.45" fill="#999" stroke="#333" stroke-width="0.35"/>
</g>
</g>
<rect x="168.8" y="421.90" width="12" height="5.9" fill="#1aa51a"/>
<text class="lg" x="188.6" y="427.20" font-size="7" textLength="3.7" lengthAdjust="spacingAndGlyphs" fill="#1a1a1a" stroke="#1a1a1a" stroke-width="0.15">0</text>
<rect x="168.8" y="430.24" width="12" height="5.9" fill="#14be14"/>
<text class="lg" x="188.6" y="435.54" font-size="7" textLength="20.8" lengthAdjust="spacingAndGlyphs" fill="#1a1a1a" stroke="#1a1a1a" stroke-width="0.15">0.0-1.0</text>
<rect x="168.8" y="438.58" width="12" height="5.9" fill="#4bc814"/>
<text class="lg" x="188.6" y="443.88" font-size="7" textLength="20.8" lengthAdjust="spacingAndGlyphs" fill="#1a1a1a" stroke="#1a1a1a" stroke-width="0.15">1.0-2.0</text>
<rect x="168.8" y="446.92" width="12" height="5.9" fill="#8cd714"/>
<text class="lg" x="188.6" y="452.22" font-size="7" textLength="20.8" lengthAdjust="spacingAndGlyphs" fill="#1a1a1a" stroke="#1a1a1a" stroke-width="0.15">2.0-3.0</text>
<rect x="168.8" y="455.26" width="12" height="5.9" fill="#d7f00f"/>
<text class="lg" x="188.6" y="460.56" font-size="7" textLength="20.8" lengthAdjust="spacingAndGlyphs" fill="#1a1a1a" stroke="#1a1a1a" stroke-width="0.15">3.0-4.0</text>
<rect x="168.8" y="463.60" width="12" height="5.9" fill="#ffdc00"/>
<text class="lg" x="188.6" y="468.90" font-size="7" textLength="20.8" lengthAdjust="spacingAndGlyphs" fill="#1a1a1a" stroke="#1a1a1a" stroke-width="0.15">4.0-5.0</text>
<rect x="168.8" y="471.94" width="12" height="5.9" fill="#ffa505"/>
<text class="lg" x="188.6" y="477.24" font-size="7" textLength="20.8" lengthAdjust="spacingAndGlyphs" fill="#1a1a1a" stroke="#1a1a1a" stroke-width="0.15">5.0-6.0</text>
<rect x="168.8" y="480.28" width="12" height="5.9" fill="#ff6e05"/>
<text class="lg" x="188.6" y="485.58" font-size="7" textLength="20.8" lengthAdjust="spacingAndGlyphs" fill="#1a1a1a" stroke="#1a1a1a" stroke-width="0.15">6.0-7.0</text>
<rect x="168.8" y="488.62" width="12" height="5.9" fill="#ff370a"/>
<text class="lg" x="188.6" y="493.92" font-size="7" textLength="20.8" lengthAdjust="spacingAndGlyphs" fill="#1a1a1a" stroke="#1a1a1a" stroke-width="0.15">8.0-9.0</text>
<rect x="168.8" y="496.96" width="12" height="5.9" fill="#ff0000"/>
<text class="lg" x="188.6" y="502.26" font-size="7" textLength="24.5" lengthAdjust="spacingAndGlyphs" fill="#1a1a1a" stroke="#1a1a1a" stroke-width="0.15">9.0-10.0</text>
<text class="lt" transform="translate(26.5 388.9) scale(0.82 1)" font-size="17" fill="#000">E</text>
<g transform="matrix(1.008 0 0 1.008 223.38 362.79)" stroke="#1c1c00" stroke-width="0.55" stroke-linejoin="round">
<path d="M81.6 46.3L92.2 46.0L98.8 47.4L103.3 48.5L107.7 48.5L114.3 46.9L120.0 46.3L122.7 45.2L127.2 43.0L128.8 40.2L130.5 38.3L136.1 36.6L142.7 33.8L147.2 32.7L152.7 33.3L155.5 31.6L153.8 29.9L147.2 27.7L143.3 28.3L141.6 26.6L144.4 23.8L150.5 22.2L153.8 18.3L157.2 13.9L157.2 12.2L158.9 11.1L161.1 10.8L161.6 12.8L164.4 13.9L166.6 16.1L172.2 16.1L175.0 16.6L175.5 19.4L173.8 23.3L170.5 27.7L165.0 31.6L166.6 32.7L165.0 35.5L163.3 36.1L163.9 38.3L166.6 40.5L167.7 43.5L164.4 45.5L160.5 46.6L155.1 48.0L151.0 49.3L149.3 46.7L146.6 47.4L142.7 49.0L139.4 48.0L137.2 49.6L136.4 51.8L135.5 53.5L131.5 54.0L128.0 55.8L126.6 56.7L124.0 56.7L120.9 58.9L118.2 63.3L117.3 66.0L116.0 65.1L112.9 64.9L114.6 62.0L112.4 59.8L111.5 57.5L109.8 59.3L108.9 62.4L105.8 63.3L101.6 61.8L103.3 59.6L102.2 56.8L96.1 58.5L93.8 56.8L90.5 54.6L90.0 51.9L85.0 52.4L82.7 50.2Z" fill="#8cd714"/>
<path d="M2.8 57.6L5.5 54.3L11.1 52.6L17.7 50.4L24.4 47.7L26.1 44.3L26.4 41.0L24.6 38.6L31.6 36.6L34.1 32.0L42.4 30.8L44.6 27.5L49.1 24.7L52.9 27.5L58.2 31.6L59.5 36.6L66.5 39.1L75.0 42.5L77.8 45.5L72.0 51.0L66.6 56.8L62.0 58.2L58.2 60.7L59.9 66.6L57.0 68.0L55.7 67.0L50.0 66.5L44.3 67.6L36.6 69.3L28.8 70.0L23.8 70.4L20.0 73.2L17.2 70.4L12.2 68.7L9.4 65.9L6.1 64.3L6.7 62.6L4.4 60.4Z" fill="#4bc814"/>
<path d="M20.0 73.2L23.8 70.4L28.8 70.0L36.6 69.3L44.3 67.6L50.0 66.5L55.7 67.0L57.0 68.0L57.4 69.1L56.5 73.3L59.9 76.6L66.5 78.3L70.0 79.1L76.6 81.6L81.0 79.5L82.1 75.3L83.8 79.0L85.4 82.3L86.5 86.2L87.1 89.5L87.1 92.6L86.0 92.3L81.5 93.4L76.0 93.4L69.8 94.9L66.6 97.4L64.0 97.4L58.2 94.9L53.2 95.7L46.6 94.9L39.1 92.4L31.6 88.3L24.9 84.9L20.8 82.8L19.2 81.5L18.8 79.8L20.5 76.5Z" fill="#14be14"/>
<path d="M57.0 68.0L59.9 66.6L58.2 60.7L62.0 58.2L66.6 56.8L70.0 57.4L80.0 58.0L81.0 59.0L86.6 59.0L90.0 60.7L95.0 61.8L97.7 64.0L98.9 67.3L97.6 70.7L95.4 73.4L93.2 74.8L95.0 76.6L92.6 77.9L88.2 77.9L84.9 76.2L82.1 75.3L81.0 79.5L76.6 81.6L70.0 79.1L66.5 78.3L59.9 76.6L56.5 73.3L57.4 69.1Z" fill="#14be14"/>
<path d="M77.8 45.5L81.6 46.3L82.7 50.2L85.0 52.4L90.0 51.9L90.5 54.6L93.8 56.8L96.1 58.5L102.2 56.8L103.3 59.6L101.6 61.8L105.8 63.3L107.5 64.6L108.9 66.9L110.2 69.5L112.4 68.4L112.9 64.9L116.0 65.1L117.7 66.4L118.2 68.6L116.4 70.8L112.9 71.4L112.4 74.0L111.5 76.6L110.6 78.6L109.3 79.5L105.4 79.0L102.1 75.6L99.3 74.2L96.5 76.7L95.0 76.6L93.2 74.8L95.4 73.4L97.6 70.7L98.9 67.3L97.7 64.0L95.0 61.8L90.0 60.7L86.6 59.0L81.0 59.0L80.0 58.0L70.0 57.4L66.6 56.8L72.0 51.0Z" fill="#8cd714"/>
<path d="M111.5 57.5L112.4 59.8L114.6 62.0L112.9 64.9L112.4 68.4L110.2 69.5L108.9 66.9L107.5 64.6L105.8 63.3L108.9 62.4L109.8 59.3Z" fill="#14be14"/>
<path d="M161.1 10.8L163.3 10.0L168.8 10.0L173.8 11.1L176.6 13.3L178.8 17.7L181.6 21.6L185.5 23.3L189.9 24.4L192.2 27.7L195.5 29.4L200.5 27.7L205.5 26.9L204.4 30.0L202.2 33.3L199.4 36.6L196.6 37.7L192.7 38.8L193.3 42.4L190.5 42.7L187.2 42.2L184.4 39.6L179.4 38.2L173.3 36.6L168.8 34.4L165.0 35.5L166.6 32.7L165.0 31.6L170.5 27.7L173.8 23.3L175.5 19.4L175.0 16.6L172.2 16.1L166.6 16.1L164.4 13.9L161.6 12.8Z" fill="#ffdc00"/>
<path d="M163.3 36.1L165.0 35.5L168.8 34.4L173.3 36.6L179.4 38.2L184.4 39.6L187.2 42.2L190.5 42.7L193.3 42.4L191.6 45.5L188.3 46.6L186.1 48.2L183.8 48.8L182.7 50.5L179.4 49.9L177.2 51.1L174.9 49.9L173.8 46.6L171.1 44.4L167.7 43.5L166.6 40.5L163.9 38.3Z" fill="#d7f00f"/>
<path d="M167.7 43.5L171.1 44.4L173.8 46.6L174.9 49.9L173.8 51.6L170.0 54.4L164.4 56.6L160.4 58.2L161.3 56.0L163.0 52.9L160.4 52.4L157.0 54.0L154.2 55.5L153.3 52.9L151.0 49.3L155.1 48.0L160.5 46.6L164.4 45.5Z" fill="#8cd714"/>
<path d="M137.2 49.6L139.4 48.0L142.7 49.0L146.6 47.4L149.3 46.7L151.0 49.3L153.3 52.9L154.2 55.5L151.0 57.3L148.9 58.6L148.0 60.4L145.3 63.0L143.8 64.3L141.5 67.5L137.3 67.5L136.4 65.1L135.9 62.4L135.5 58.9L136.8 55.3L135.5 53.5L136.4 51.8Z" fill="#ff6e05"/>
<path d="M141.8 53.6L143.5 52.0L145.5 51.6L147.0 52.6L147.3 54.8L145.8 56.0L143.0 56.2L141.9 55.0Z" fill="#14be14"/>
<path d="M146.3 55.4L148.4 55.6L149.2 58.7L147.3 59.6L146.2 57.5Z" fill="#14be14"/>
<path d="M141.5 67.5L143.8 64.3L145.3 63.0L148.9 61.7L152.8 61.7L154.0 64.2L157.7 62.8L161.3 62.6L164.6 64.0L161.6 65.5L158.3 67.2L156.0 70.0L154.4 71.6L150.5 72.5L145.5 72.2L142.2 72.7L140.4 70.0Z" fill="#ff370a"/>
<path d="M126.6 56.7L128.0 55.8L131.5 54.0L135.5 53.5L136.8 55.3L135.5 58.9L135.9 62.4L136.4 65.1L137.3 67.5L134.2 69.2L129.7 71.4L125.3 73.3L124.8 70.4L124.4 66.9L125.3 63.3L125.3 59.8Z" fill="#8cd714"/>
<path d="M124.0 56.7L126.6 56.7L125.3 59.8L125.3 63.3L124.4 66.9L124.8 70.4L125.3 73.3L126.2 75.7L124.8 77.5L123.1 79.3L121.7 79.5L118.2 80.8L117.0 80.6L113.7 79.5L110.6 78.6L111.5 76.6L112.4 74.0L112.9 71.4L116.4 70.8L118.2 68.6L117.3 66.0L118.2 63.3L120.9 58.9Z" fill="#d7f00f"/>
<path d="M125.3 73.3L129.7 71.4L134.2 69.2L137.3 67.5L141.5 67.5L140.4 70.0L142.2 72.7L144.4 75.0L141.6 76.6L140.5 78.8L142.7 81.0L140.5 82.5L137.7 81.3L134.2 79.9L129.7 78.5L126.6 77.6L124.8 77.5L126.2 75.7Z" fill="#ff0000"/>
<path d="M145.5 72.2L150.5 72.5L154.4 71.6L157.2 75.0L159.4 78.3L161.0 81.6L160.0 82.7L159.0 84.3L155.3 85.2L152.6 85.7L151.0 83.0L149.9 79.3L148.3 76.6L145.9 74.8L144.4 75.0L142.2 72.7Z" fill="#ffa505"/>
<path d="M144.4 75.0L145.9 74.8L148.3 76.6L149.9 79.3L151.0 83.0L152.6 85.7L152.7 87.2L149.9 88.8L146.0 87.7L143.3 86.8L143.3 84.2L140.5 82.5L142.7 81.0L140.5 78.8L141.6 76.6Z" fill="#ffa505"/>
<path d="M159.9 82.7L162.1 82.2L162.1 84.4L160.5 84.9Z" fill="#1aa51a"/>
<path d="M152.6 85.7L155.3 85.2L159.0 84.3L160.5 85.2L162.5 86.6L162.7 89.4L161.0 92.7L158.8 95.5L156.0 96.7L152.7 95.1L151.0 92.4L151.3 89.5L152.7 87.2Z" fill="#4bc814"/>
<path d="M151.0 92.4L152.7 95.1L156.0 96.7L155.5 100.0L153.3 103.3L151.0 106.0L148.3 107.8L146.2 106.3L143.8 104.0L145.0 100.3L146.8 97.0L148.5 94.6L150.3 92.3Z" fill="#14be14"/>
<path d="M138.2 88.5L141.6 87.2L143.3 86.8L146.0 87.7L149.9 88.8L152.7 87.2L151.3 89.5L151.0 92.4L150.3 92.3L148.5 94.6L146.8 97.0L145.0 100.3L143.8 104.0L141.0 105.5L138.2 104.5L136.7 100.5L135.6 96.6L136.0 92.2L135.5 89.5Z" fill="#ffdc00"/>
<path d="M123.1 79.3L124.8 77.5L126.6 77.6L129.7 78.5L134.2 79.9L137.7 81.3L140.5 82.5L143.3 84.2L143.3 86.8L141.6 87.2L138.2 88.5L135.5 89.5L132.1 88.4L127.7 88.9L123.8 88.4L121.3 89.7L119.2 88.3L120.3 86.7L123.1 84.5L121.5 83.4L121.7 79.5Z" fill="#ffdc00"/>
<path d="M121.3 89.7L123.8 88.4L127.7 88.9L132.1 88.4L135.5 89.5L136.0 92.2L135.6 96.6L136.7 100.5L134.5 102.8L131.3 103.5L129.2 105.3L127.2 102.5L126.6 100.3L122.2 100.6L120.3 99.5L119.8 96.2L118.7 93.0L119.8 91.2Z" fill="#ffdc00"/>
<path d="M118.2 80.8L121.7 79.5L121.5 83.4L123.1 84.5L120.3 86.7L119.2 88.3L121.3 89.7L119.8 91.2L118.7 93.0L115.4 91.7L112.6 92.3L109.3 92.8L108.2 90.1L109.3 87.8L113.1 86.2L115.9 84.5L118.1 82.3L117.0 80.6Z" fill="#4bc814"/>
<path d="M82.1 75.3L84.9 76.2L88.2 77.9L92.6 77.9L95.0 76.6L96.5 76.7L99.3 74.2L102.1 75.6L105.4 79.0L109.3 79.5L110.6 78.6L113.7 79.5L117.0 80.6L118.1 82.3L115.9 84.5L113.1 86.2L109.3 87.8L108.2 90.1L109.3 92.8L107.2 93.9L105.5 93.0L104.6 93.2L102.6 95.6L99.8 97.3L97.6 100.0L96.0 98.4L93.7 95.6L91.0 93.4L88.2 92.3L87.1 92.6L87.1 89.5L86.5 86.2L85.4 82.3L83.8 79.0Z" fill="#ffa505"/>
<path d="M109.3 92.8L112.6 92.3L115.4 91.7L118.7 93.0L119.8 96.2L120.3 99.5L119.4 102.2L114.4 103.3L111.1 104.9L106.6 104.9L105.7 103.5L104.6 101.0L102.9 98.2L105.5 96.0L105.8 94.5L105.5 93.0L107.2 93.9Z" fill="#4bc814"/>
<path d="M87.1 92.6L88.2 92.3L91.0 93.4L93.7 95.6L96.0 98.4L97.6 100.0L99.8 97.3L102.6 95.6L104.6 93.2L105.5 93.0L105.8 94.5L105.5 96.0L102.9 98.2L104.6 101.0L105.7 103.5L106.6 104.9L107.6 106.6L109.6 108.7L105.7 110.4L101.8 112.1L98.0 112.6L95.7 114.3L94.6 116.5L91.9 114.8L89.6 113.7L88.0 110.9L86.3 108.7L83.0 107.1L82.4 105.4L85.2 102.1L85.8 98.2L85.2 94.9L86.0 92.3Z" fill="#ffdc00"/>
<path d="M106.6 104.9L111.1 104.9L114.4 103.3L119.4 102.2L120.3 99.5L122.2 100.6L126.6 100.3L127.2 102.5L129.2 105.3L128.3 108.9L126.6 111.6L124.9 113.8L123.3 115.5L121.0 115.0L117.7 115.5L114.4 114.4L111.3 112.1L109.6 108.7L107.6 106.6Z" fill="#14be14"/>
<path d="M129.2 105.3L131.3 103.5L134.5 102.8L136.7 100.5L138.2 104.5L141.0 105.5L143.8 104.0L146.2 106.3L148.3 107.8L144.9 109.6L141.0 111.6L137.7 113.3L133.3 114.4L128.8 115.5L126.2 117.2L125.2 119.8L123.8 120.3L122.6 119.4L123.3 115.5L124.9 113.8L126.6 111.6L128.3 108.9Z" fill="#8cd714"/>
<path d="M118.1 124.6L119.3 122.2L122.0 120.9L125.0 120.6L126.8 121.9L126.3 124.2L124.2 126.3L121.0 127.4L118.8 126.8Z" fill="#14be14"/>
<path d="M160.6 104.3L162.4 104.6L162.3 107.9L161.1 110.8L159.2 114.2L157.6 112.2L156.7 109.0L158.2 105.9Z" fill="#14be14"/>
<g stroke="none">
<rect x="52.3" y="20.7" width="84.9" height="2.9" fill="#f2f2f2" stroke="#000" stroke-width="0.5"/>
<rect x="52.3" y="20.7" width="5.3" height="2.9" fill="#000"/>
<rect x="62.9" y="20.7" width="5.3" height="2.9" fill="#000"/>
<rect x="73.5" y="20.7" width="21.3" height="2.9" fill="#000"/>
<rect x="116" y="20.7" width="21.2" height="2.9" fill="#000"/>
<text x="53" y="18.2" font-size="6.4" text-anchor="middle" fill="#222">0</text>
<text x="62.6" y="18.2" font-size="6.4" text-anchor="middle" fill="#222">350</text>
<text x="73.8" y="18.2" font-size="6.4" text-anchor="middle" fill="#222">700</text>
<text x="95" y="18.2" font-size="6.4" text-anchor="middle" fill="#222">1,400</text>
<text x="115.7" y="18.2" font-size="6.4" text-anchor="middle" fill="#222">2,100</text>
<text x="136.5" y="18.2" font-size="6.4" text-anchor="middle" fill="#222">2,800</text>
<text x="137.9" y="24.1" font-size="6.2" fill="#222">km</text>
<text x="106.8" y="36.9" font-size="4.2" text-anchor="middle" font-weight="bold" fill="#333">N</text>
<path d="M106.9 37.7L104.3 48L106.9 45.8Z" fill="#111"/><path d="M106.9 37.7L109.4 48L106.9 45.8Z" fill="#fff" stroke="#555" stroke-width="0.35"/>
<path d="M162.0 85.3L163.0 88L162.3 91.2L160.3 94.6L158.2 97L156.4 99.4L155.2 102.2L153 105L150 107.7L147 109.3" stroke="#111" stroke-width="1.05" fill="none" stroke-linejoin="round"/>
<path d="M147 109.3L143 111.4L138.5 113.1L134 114.3L129.5 115.5L126.3 117.2" stroke="#111" stroke-width="0.75" fill="none" stroke-linejoin="round"/>
<path d="M163.6 85.2L164.8 86.2M154.2 109L154.8 110" stroke="#222" stroke-width="0.7" fill="none"/>
<path d="M145.2 118.0L146.2 119.0" stroke="#222" stroke-width="0.65" fill="none"/>
<path d="M160.6 117.2L161.8 115.2" stroke="#222" stroke-width="0.65" fill="none"/>
<path d="M155.2 126.8L156.4 124.2" stroke="#222" stroke-width="0.65" fill="none"/>
<path d="M152.9 134.2L152.5 137.0" stroke="#222" stroke-width="0.65" fill="none"/>
<path d="M151.3 150.2L152.5 147.4" stroke="#222" stroke-width="0.65" fill="none"/>
<path d="M142.0 163.2L143.2 160.8" stroke="#222" stroke-width="0.65" fill="none"/>
<path d="M131.0 167.6L131.2 168.8" stroke="#222" stroke-width="0.65" fill="none"/>
<path d="M129.8 175.0L130.8 175.6" stroke="#222" stroke-width="0.65" fill="none"/>
<path d="M117.0 163.6L117.2 166.6" stroke="#222" stroke-width="0.65" fill="none"/>
<path d="M123.8 146.6L124.2 149.4" stroke="#222" stroke-width="0.65" fill="none"/>
<path d="M121.0 133.4L122.2 136.2" stroke="#222" stroke-width="0.65" fill="none"/>
<path d="M163.6 107.4L164.4 105.6" stroke="#222" stroke-width="0.65" fill="none"/>
<path d="M163.0 110.6L163.4 109.2" stroke="#222" stroke-width="0.65" fill="none"/>
<ellipse cx="128.6" cy="131.8" rx="0.7" ry="0.45" fill="#999" stroke="#333" stroke-width="0.35"/>
<ellipse cx="129.8" cy="132.6" rx="0.7" ry="0.45" fill="#999" stroke="#333" stroke-width="0.35"/>
<ellipse cx="130.6" cy="131.6" rx="0.7" ry="0.45" fill="#999" stroke="#333" stroke-width="0.35"/>
<ellipse cx="129.2" cy="133.4" rx="0.7" ry="0.45" fill="#999" stroke="#333" stroke-width="0.35"/>
<ellipse cx="137.4" cy="134.4" rx="0.7" ry="0.45" fill="#999" stroke="#333" stroke-width="0.35"/>
<ellipse cx="138.4" cy="134.8" rx="0.7" ry="0.45" fill="#999" stroke="#333" stroke-width="0.35"/>
<ellipse cx="148.8" cy="137.2" rx="0.7" ry="0.45" fill="#999" stroke="#333" stroke-width="0.35"/>
<ellipse cx="136.0" cy="150.2" rx="0.7" ry="0.45" fill="#999" stroke="#333" stroke-width="0.35"/>
<ellipse cx="137.6" cy="151.4" rx="0.7" ry="0.45" fill="#999" stroke="#333" stroke-width="0.35"/>
<ellipse cx="139.0" cy="150.6" rx="0.7" ry="0.45" fill="#999" stroke="#333" stroke-width="0.35"/>
<ellipse cx="141.2" cy="151.6" rx="0.7" ry="0.45" fill="#999" stroke="#333" stroke-width="0.35"/>
<ellipse cx="143.4" cy="152.6" rx="0.7" ry="0.45" fill="#999" stroke="#333" stroke-width="0.35"/>
<ellipse cx="145.0" cy="151.0" rx="0.7" ry="0.45" fill="#999" stroke="#333" stroke-width="0.35"/>
<ellipse cx="146.6" cy="152.8" rx="0.7" ry="0.45" fill="#999" stroke="#333" stroke-width="0.35"/>
<ellipse cx="138.6" cy="153.8" rx="0.7" ry="0.45" fill="#999" stroke="#333" stroke-width="0.35"/>
<ellipse cx="140.4" cy="154.6" rx="0.7" ry="0.45" fill="#999" stroke="#333" stroke-width="0.35"/>
<ellipse cx="142.4" cy="155.4" rx="0.7" ry="0.45" fill="#999" stroke="#333" stroke-width="0.35"/>
<ellipse cx="144.6" cy="155.8" rx="0.7" ry="0.45" fill="#999" stroke="#333" stroke-width="0.35"/>
<ellipse cx="136.2" cy="155.6" rx="0.7" ry="0.45" fill="#999" stroke="#333" stroke-width="0.35"/>
<ellipse cx="134.4" cy="157.4" rx="0.7" ry="0.45" fill="#999" stroke="#333" stroke-width="0.35"/>
<ellipse cx="136.8" cy="158.6" rx="0.7" ry="0.45" fill="#999" stroke="#333" stroke-width="0.35"/>
<ellipse cx="139.0" cy="157.8" rx="0.7" ry="0.45" fill="#999" stroke="#333" stroke-width="0.35"/>
<ellipse cx="141.0" cy="159.0" rx="0.7" ry="0.45" fill="#999" stroke="#333" stroke-width="0.35"/>
<ellipse cx="133.4" cy="159.6" rx="0.7" ry="0.45" fill="#999" stroke="#333" stroke-width="0.35"/>
<ellipse cx="135.6" cy="160.8" rx="0.7" ry="0.45" fill="#999" stroke="#333" stroke-width="0.35"/>
<ellipse cx="138.2" cy="161.2" rx="0.7" ry="0.45" fill="#999" stroke="#333" stroke-width="0.35"/>
<ellipse cx="123.0" cy="160.2" rx="0.7" ry="0.45" fill="#999" stroke="#333" stroke-width="0.35"/>
<ellipse cx="124.4" cy="161.0" rx="0.7" ry="0.45" fill="#999" stroke="#333" stroke-width="0.35"/>
<ellipse cx="131.4" cy="158.2" rx="0.7" ry="0.45" fill="#999" stroke="#333" stroke-width="0.35"/>
<ellipse cx="129.6" cy="159.8" rx="0.7" ry="0.45" fill="#999" stroke="#333" stroke-width="0.35"/>
</g>
</g>
<rect x="395.3" y="422.30" width="12.4" height="5.9" fill="#1aa51a"/>
<text class="lg" x="417" y="427.60" font-size="7" textLength="3.7" lengthAdjust="spacingAndGlyphs" fill="#1a1a1a" stroke="#1a1a1a" stroke-width="0.15">0</text>
<rect x="395.3" y="430.70" width="12.4" height="5.9" fill="#14be14"/>
<text class="lg" x="417" y="436.00" font-size="7" textLength="21.0" lengthAdjust="spacingAndGlyphs" fill="#1a1a1a" stroke="#1a1a1a" stroke-width="0.15">0.0-1.0</text>
<rect x="395.3" y="439.10" width="12.4" height="5.9" fill="#4bc814"/>
<text class="lg" x="417" y="444.40" font-size="7" textLength="21.0" lengthAdjust="spacingAndGlyphs" fill="#1a1a1a" stroke="#1a1a1a" stroke-width="0.15">1.0-2.0</text>
<rect x="395.3" y="447.50" width="12.4" height="5.9" fill="#8cd714"/>
<text class="lg" x="417" y="452.80" font-size="7" textLength="21.0" lengthAdjust="spacingAndGlyphs" fill="#1a1a1a" stroke="#1a1a1a" stroke-width="0.15">2.0-3.0</text>
<rect x="395.3" y="455.90" width="12.4" height="5.9" fill="#d7f00f"/>
<text class="lg" x="417" y="461.20" font-size="7" textLength="21.0" lengthAdjust="spacingAndGlyphs" fill="#1a1a1a" stroke="#1a1a1a" stroke-width="0.15">3.0-4.0</text>
<rect x="395.3" y="464.30" width="12.4" height="5.9" fill="#ffdc00"/>
<text class="lg" x="417" y="469.60" font-size="7" textLength="21.0" lengthAdjust="spacingAndGlyphs" fill="#1a1a1a" stroke="#1a1a1a" stroke-width="0.15">4.0-5.0</text>
<rect x="395.3" y="472.70" width="12.4" height="5.9" fill="#ffa505"/>
<text class="lg" x="417" y="478.00" font-size="7" textLength="21.0" lengthAdjust="spacingAndGlyphs" fill="#1a1a1a" stroke="#1a1a1a" stroke-width="0.15">5.0-6.0</text>
<rect x="395.3" y="481.10" width="12.4" height="5.9" fill="#ff6e05"/>
<text class="lg" x="417" y="486.40" font-size="7" textLength="21.0" lengthAdjust="spacingAndGlyphs" fill="#1a1a1a" stroke="#1a1a1a" stroke-width="0.15">7.0-8.0</text>
<rect x="395.3" y="489.50" width="12.4" height="5.9" fill="#ff370a"/>
<text class="lg" x="417" y="494.80" font-size="7" textLength="21.0" lengthAdjust="spacingAndGlyphs" fill="#1a1a1a" stroke="#1a1a1a" stroke-width="0.15">8.0-9.0</text>
<rect x="395.3" y="497.90" width="12.4" height="5.9" fill="#ff0000"/>
<text class="lg" x="417" y="503.20" font-size="7" textLength="24.7" lengthAdjust="spacingAndGlyphs" fill="#1a1a1a" stroke="#1a1a1a" stroke-width="0.15">9.0-10.0</text>
<text class="lt" transform="translate(240.0 392.4) scale(0.85 1)" font-size="17" fill="#000">F</text>
</svg></body></html>
